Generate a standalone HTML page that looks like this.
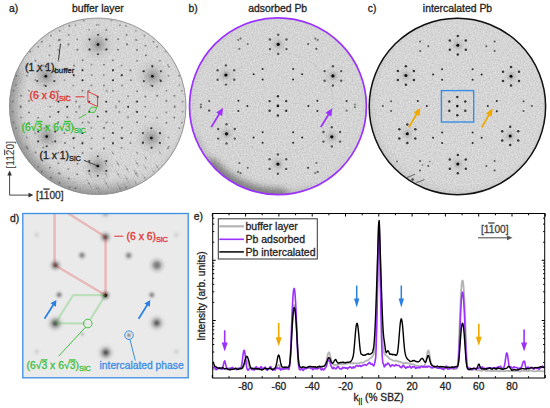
<!DOCTYPE html><html><head><meta charset="utf-8"><style>html,body{margin:0;padding:0;background:#fff;width:550px;height:408px;overflow:hidden}svg{display:block}text{font-family:"Liberation Sans", sans-serif}</style></head><body>
<svg width="550" height="408" viewBox="0 0 550 408">
<defs>
<filter id="bs" x="-100%" y="-100%" width="300%" height="300%"><feGaussianBlur stdDeviation="0.7"/></filter>
<filter id="b3" x="-100%" y="-100%" width="300%" height="300%"><feGaussianBlur stdDeviation="3"/></filter>
<filter id="b5" x="-20%" y="-20%" width="140%" height="140%"><feGaussianBlur stdDeviation="5"/></filter>
<radialGradient id="halo"><stop offset="0" stop-color="#000" stop-opacity="0.5"/><stop offset="0.2" stop-color="#000" stop-opacity="0.25"/><stop offset="0.55" stop-color="#000" stop-opacity="0.07"/><stop offset="1" stop-color="#000" stop-opacity="0"/></radialGradient>
<clipPath id="cp0"><circle cx="97.75" cy="106.25" r="88.6"/></clipPath>
<clipPath id="cp1"><circle cx="277.95" cy="106.25" r="88.6"/></clipPath>
<clipPath id="cp2"><circle cx="457.4" cy="106.25" r="88.6"/></clipPath>
<clipPath id="cpd"><rect x="23" y="213.5" width="165" height="164.3"/></clipPath>
<clipPath id="cpe"><rect x="212.5" y="213.5" width="332.5" height="164.5"/></clipPath>
<filter id="noise" x="0" y="0" width="100%" height="100%" filterUnits="objectBoundingBox"><feTurbulence type="fractalNoise" baseFrequency="0.65" numOctaves="1" seed="4" result="t"/><feColorMatrix in="t" type="matrix" values="0 0 0 0 0  0 0 0 0 0  0 0 0 0 0  0.22 0 0 0 -0.06"/></filter>
</defs>
<g clip-path="url(#cp0)">
<rect x="9.150000000000006" y="17.650000000000006" width="177.2" height="177.2" fill="#e0e0e0"/>
<path filter="url(#b5)" d="M14.5,75.9 A88.6,88.6 0 0,0 128.1,189.5" fill="none" stroke="#000" stroke-opacity="0.2" stroke-width="16" stroke-linecap="round"/><path filter="url(#b3)" fill-rule="evenodd" fill="#000" fill-opacity="0.1" d="M-5.849999999999994,2.6500000000000057 h207.2 v207.2 h-207.2 Z M11.150000000000006,104.25 a88.6,88.6 0 1,0 177.2,0 a88.6,88.6 0 1,0 -177.2,0 Z"/><path filter="url(#b5)" fill-rule="evenodd" fill="#000" fill-opacity="0.05" d="M-5.849999999999994,2.6500000000000057 h207.2 v207.2 h-207.2 Z M17.150000000000006,98.25 a88.6,88.6 0 1,0 177.2,0 a88.6,88.6 0 1,0 -177.2,0 Z"/><rect x="0" y="15" width="550" height="185" filter="url(#noise)"/>
<g filter="url(#bs)"><circle cx="97.7" cy="96.9" r="1.05" fill="#000" fill-opacity="0.70"/><circle cx="89.2" cy="101.8" r="1.05" fill="#000" fill-opacity="0.70"/><circle cx="89.2" cy="111.6" r="1.05" fill="#000" fill-opacity="0.70"/><circle cx="97.7" cy="116.5" r="1.05" fill="#000" fill-opacity="0.70"/><circle cx="106.2" cy="111.6" r="1.05" fill="#000" fill-opacity="0.70"/><circle cx="106.2" cy="101.8" r="1.05" fill="#000" fill-opacity="0.70"/><circle cx="98.0" cy="34.7" r="1.05" fill="#000" fill-opacity="0.68"/><circle cx="89.5" cy="39.6" r="1.05" fill="#000" fill-opacity="0.68"/><circle cx="89.5" cy="49.4" r="1.05" fill="#000" fill-opacity="0.68"/><circle cx="98.0" cy="54.3" r="1.05" fill="#000" fill-opacity="0.68"/><circle cx="106.5" cy="49.4" r="1.05" fill="#000" fill-opacity="0.68"/><circle cx="106.5" cy="39.6" r="1.05" fill="#000" fill-opacity="0.68"/><circle cx="152.4" cy="66.4" r="1.05" fill="#000" fill-opacity="0.68"/><circle cx="143.9" cy="71.3" r="1.05" fill="#000" fill-opacity="0.68"/><circle cx="143.9" cy="81.1" r="1.05" fill="#000" fill-opacity="0.68"/><circle cx="152.4" cy="86.0" r="1.05" fill="#000" fill-opacity="0.68"/><circle cx="160.9" cy="81.1" r="1.05" fill="#000" fill-opacity="0.68"/><circle cx="160.9" cy="71.3" r="1.05" fill="#000" fill-opacity="0.68"/><circle cx="151.4" cy="128.2" r="1.05" fill="#000" fill-opacity="0.68"/><circle cx="142.9" cy="133.1" r="1.05" fill="#000" fill-opacity="0.68"/><circle cx="142.9" cy="142.9" r="1.05" fill="#000" fill-opacity="0.68"/><circle cx="151.4" cy="147.8" r="1.05" fill="#000" fill-opacity="0.68"/><circle cx="159.9" cy="142.9" r="1.05" fill="#000" fill-opacity="0.68"/><circle cx="159.9" cy="133.1" r="1.05" fill="#000" fill-opacity="0.68"/><circle cx="45.8" cy="66.4" r="1.05" fill="#000" fill-opacity="0.68"/><circle cx="37.3" cy="71.3" r="1.05" fill="#000" fill-opacity="0.68"/><circle cx="37.3" cy="81.1" r="1.05" fill="#000" fill-opacity="0.68"/><circle cx="45.8" cy="86.0" r="1.05" fill="#000" fill-opacity="0.68"/><circle cx="54.3" cy="81.1" r="1.05" fill="#000" fill-opacity="0.68"/><circle cx="54.3" cy="71.3" r="1.05" fill="#000" fill-opacity="0.68"/><circle cx="46.7" cy="126.7" r="1.05" fill="#000" fill-opacity="0.68"/><circle cx="38.2" cy="131.6" r="1.05" fill="#000" fill-opacity="0.68"/><circle cx="38.2" cy="141.4" r="1.05" fill="#000" fill-opacity="0.68"/><circle cx="46.7" cy="146.3" r="1.05" fill="#000" fill-opacity="0.68"/><circle cx="55.2" cy="141.4" r="1.05" fill="#000" fill-opacity="0.68"/><circle cx="55.2" cy="131.6" r="1.05" fill="#000" fill-opacity="0.68"/><circle cx="97.8" cy="156.2" r="1.05" fill="#000" fill-opacity="0.68"/><circle cx="89.3" cy="161.1" r="1.05" fill="#000" fill-opacity="0.68"/><circle cx="89.3" cy="170.9" r="1.05" fill="#000" fill-opacity="0.68"/><circle cx="97.8" cy="175.8" r="1.05" fill="#000" fill-opacity="0.68"/><circle cx="106.3" cy="170.9" r="1.05" fill="#000" fill-opacity="0.68"/><circle cx="106.3" cy="161.1" r="1.05" fill="#000" fill-opacity="0.68"/><circle cx="137.2" cy="101.5" r="1.00" fill="#000" fill-opacity="0.70"/><circle cx="128.2" cy="106.7" r="1.00" fill="#000" fill-opacity="0.70"/><circle cx="137.2" cy="111.9" r="1.00" fill="#000" fill-opacity="0.70"/><circle cx="122.0" cy="75.1" r="1.00" fill="#000" fill-opacity="0.70"/><circle cx="113.0" cy="69.9" r="1.00" fill="#000" fill-opacity="0.70"/><circle cx="113.0" cy="80.3" r="1.00" fill="#000" fill-opacity="0.70"/><circle cx="82.5" cy="69.9" r="1.00" fill="#000" fill-opacity="0.70"/><circle cx="73.5" cy="75.1" r="1.00" fill="#000" fill-opacity="0.70"/><circle cx="82.5" cy="80.3" r="1.00" fill="#000" fill-opacity="0.70"/><circle cx="67.2" cy="106.7" r="1.00" fill="#000" fill-opacity="0.70"/><circle cx="58.2" cy="101.5" r="1.00" fill="#000" fill-opacity="0.70"/><circle cx="58.2" cy="111.9" r="1.00" fill="#000" fill-opacity="0.70"/><circle cx="82.4" cy="133.1" r="1.00" fill="#000" fill-opacity="0.70"/><circle cx="73.4" cy="138.3" r="1.00" fill="#000" fill-opacity="0.70"/><circle cx="82.4" cy="143.5" r="1.00" fill="#000" fill-opacity="0.70"/><circle cx="122.0" cy="138.3" r="1.00" fill="#000" fill-opacity="0.70"/><circle cx="113.0" cy="133.1" r="1.00" fill="#000" fill-opacity="0.70"/><circle cx="113.0" cy="143.5" r="1.00" fill="#000" fill-opacity="0.70"/><circle cx="76.2" cy="111.9" r="1.05" fill="#000" fill-opacity="0.30"/><circle cx="82.5" cy="122.7" r="1.05" fill="#000" fill-opacity="0.35"/><circle cx="82.5" cy="90.7" r="1.05" fill="#000" fill-opacity="0.41"/><circle cx="76.2" cy="101.5" r="1.05" fill="#000" fill-opacity="0.40"/><circle cx="104.0" cy="85.5" r="1.05" fill="#000" fill-opacity="0.40"/><circle cx="91.4" cy="85.5" r="1.05" fill="#000" fill-opacity="0.35"/><circle cx="119.2" cy="101.5" r="1.05" fill="#000" fill-opacity="0.41"/><circle cx="112.9" cy="90.7" r="1.05" fill="#000" fill-opacity="0.37"/><circle cx="112.9" cy="122.7" r="1.05" fill="#000" fill-opacity="0.28"/><circle cx="119.2" cy="111.9" r="1.05" fill="#000" fill-opacity="0.35"/><circle cx="91.4" cy="127.9" r="1.05" fill="#000" fill-opacity="0.28"/><circle cx="104.0" cy="127.9" r="1.05" fill="#000" fill-opacity="0.44"/><circle cx="67.3" cy="96.2" r="1.05" fill="#000" fill-opacity="0.44"/><circle cx="91.6" cy="138.3" r="1.05" fill="#000" fill-opacity="0.33"/><circle cx="91.6" cy="75.1" r="1.05" fill="#000" fill-opacity="0.33"/><circle cx="67.3" cy="117.2" r="1.05" fill="#000" fill-opacity="0.41"/><circle cx="122.0" cy="85.6" r="1.05" fill="#000" fill-opacity="0.31"/><circle cx="73.4" cy="85.6" r="1.05" fill="#000" fill-opacity="0.30"/><circle cx="103.8" cy="75.1" r="1.05" fill="#000" fill-opacity="0.30"/><circle cx="128.1" cy="96.2" r="1.05" fill="#000" fill-opacity="0.33"/><circle cx="128.1" cy="117.2" r="1.05" fill="#000" fill-opacity="0.38"/><circle cx="103.8" cy="138.3" r="1.05" fill="#000" fill-opacity="0.44"/><circle cx="73.4" cy="127.8" r="1.05" fill="#000" fill-opacity="0.31"/><circle cx="122.0" cy="127.8" r="1.05" fill="#000" fill-opacity="0.44"/><circle cx="136.4" cy="111.5" r="1.05" fill="#000" fill-opacity="0.33"/><circle cx="112.9" cy="70.8" r="1.05" fill="#000" fill-opacity="0.38"/><circle cx="112.9" cy="142.6" r="1.05" fill="#000" fill-opacity="0.37"/><circle cx="136.4" cy="101.9" r="1.05" fill="#000" fill-opacity="0.27"/><circle cx="74.2" cy="137.8" r="1.05" fill="#000" fill-opacity="0.34"/><circle cx="59.0" cy="101.9" r="1.05" fill="#000" fill-opacity="0.26"/><circle cx="82.5" cy="70.8" r="1.05" fill="#000" fill-opacity="0.24"/><circle cx="121.2" cy="137.8" r="1.05" fill="#000" fill-opacity="0.30"/><circle cx="121.2" cy="75.6" r="1.05" fill="#000" fill-opacity="0.36"/><circle cx="82.5" cy="142.6" r="1.05" fill="#000" fill-opacity="0.33"/><circle cx="59.0" cy="111.5" r="1.05" fill="#000" fill-opacity="0.27"/><circle cx="74.2" cy="75.6" r="1.05" fill="#000" fill-opacity="0.37"/><circle cx="130.9" cy="133.1" r="1.05" fill="#000" fill-opacity="0.43"/><circle cx="91.4" cy="64.8" r="1.05" fill="#000" fill-opacity="0.31"/><circle cx="91.4" cy="148.6" r="1.05" fill="#000" fill-opacity="0.35"/><circle cx="130.9" cy="80.3" r="1.05" fill="#000" fill-opacity="0.38"/><circle cx="58.3" cy="122.2" r="1.05" fill="#000" fill-opacity="0.43"/><circle cx="64.5" cy="80.3" r="1.05" fill="#000" fill-opacity="0.29"/><circle cx="104.0" cy="64.8" r="1.05" fill="#000" fill-opacity="0.37"/><circle cx="137.1" cy="122.2" r="1.05" fill="#000" fill-opacity="0.44"/><circle cx="137.1" cy="91.2" r="1.05" fill="#000" fill-opacity="0.38"/><circle cx="104.0" cy="148.6" r="1.05" fill="#000" fill-opacity="0.40"/><circle cx="64.5" cy="133.1" r="1.05" fill="#000" fill-opacity="0.41"/><circle cx="58.3" cy="91.2" r="1.05" fill="#000" fill-opacity="0.36"/><circle cx="145.2" cy="106.7" r="1.05" fill="#000" fill-opacity="0.29"/><circle cx="121.5" cy="147.8" r="1.05" fill="#000" fill-opacity="0.33"/><circle cx="73.9" cy="147.8" r="1.05" fill="#000" fill-opacity="0.32"/><circle cx="50.2" cy="106.7" r="1.05" fill="#000" fill-opacity="0.29"/><circle cx="74.0" cy="65.6" r="1.05" fill="#000" fill-opacity="0.38"/><circle cx="121.5" cy="65.6" r="1.05" fill="#000" fill-opacity="0.30"/><circle cx="50.0" cy="116.8" r="1.05" fill="#000" fill-opacity="0.36"/><line x1="111.8" y1="151.4" x2="113.8" y2="154.8" stroke="#000" stroke-opacity="0.18" stroke-width="1.0" stroke-linecap="round"/><circle cx="112.8" cy="153.1" r="0.95" fill="#000" fill-opacity="0.24"/><circle cx="65.0" cy="70.4" r="1.05" fill="#000" fill-opacity="0.42"/><circle cx="65.0" cy="143.0" r="1.05" fill="#000" fill-opacity="0.43"/><circle cx="112.8" cy="60.3" r="1.05" fill="#000" fill-opacity="0.39"/><circle cx="50.0" cy="96.6" r="1.05" fill="#000" fill-opacity="0.32"/><circle cx="145.4" cy="96.6" r="1.05" fill="#000" fill-opacity="0.42"/><circle cx="82.6" cy="60.3" r="1.05" fill="#000" fill-opacity="0.43"/><circle cx="130.4" cy="70.4" r="1.05" fill="#000" fill-opacity="0.40"/><circle cx="82.6" cy="153.1" r="1.05" fill="#000" fill-opacity="0.41"/><circle cx="130.4" cy="143.0" r="1.05" fill="#000" fill-opacity="0.36"/><circle cx="145.4" cy="116.8" r="1.05" fill="#000" fill-opacity="0.36"/><line x1="116.4" y1="161.1" x2="119.4" y2="166.3" stroke="#000" stroke-opacity="0.19" stroke-width="1.0" stroke-linecap="round"/><circle cx="117.9" cy="163.7" r="0.95" fill="#000" fill-opacity="0.25"/><circle cx="58.4" cy="60.7" r="1.05" fill="#000" fill-opacity="0.33"/><circle cx="58.4" cy="152.7" r="1.05" fill="#000" fill-opacity="0.44"/><circle cx="117.9" cy="49.7" r="1.05" fill="#000" fill-opacity="0.47"/><circle cx="38.2" cy="95.7" r="1.05" fill="#000" fill-opacity="0.33"/><circle cx="157.2" cy="95.7" r="1.05" fill="#000" fill-opacity="0.45"/><circle cx="77.5" cy="49.7" r="1.05" fill="#000" fill-opacity="0.44"/><circle cx="137.0" cy="60.7" r="1.05" fill="#000" fill-opacity="0.32"/><line x1="136.0" y1="151.1" x2="137.9" y2="154.4" stroke="#000" stroke-opacity="0.14" stroke-width="1.0" stroke-linecap="round"/><circle cx="137.0" cy="152.7" r="0.95" fill="#000" fill-opacity="0.19"/><circle cx="77.5" cy="163.7" r="1.05" fill="#000" fill-opacity="0.42"/><circle cx="157.2" cy="117.7" r="1.05" fill="#000" fill-opacity="0.34"/><circle cx="38.2" cy="117.7" r="1.05" fill="#000" fill-opacity="0.36"/><circle cx="89.7" cy="49.8" r="1.05" fill="#000" fill-opacity="0.31"/><circle cx="143.0" cy="142.1" r="1.05" fill="#000" fill-opacity="0.31"/><circle cx="143.0" cy="71.3" r="1.05" fill="#000" fill-opacity="0.33"/><line x1="88.2" y1="161.0" x2="91.2" y2="166.2" stroke="#000" stroke-opacity="0.13" stroke-width="1.0" stroke-linecap="round"/><circle cx="89.7" cy="163.6" r="0.95" fill="#000" fill-opacity="0.18"/><circle cx="44.4" cy="128.2" r="1.05" fill="#000" fill-opacity="0.27"/><circle cx="52.4" cy="71.3" r="1.05" fill="#000" fill-opacity="0.22"/><circle cx="151.0" cy="128.2" r="1.05" fill="#000" fill-opacity="0.23"/><circle cx="105.7" cy="49.8" r="1.05" fill="#000" fill-opacity="0.25"/><circle cx="151.0" cy="85.2" r="1.05" fill="#000" fill-opacity="0.29"/><line x1="104.2" y1="161.0" x2="107.2" y2="166.2" stroke="#000" stroke-opacity="0.14" stroke-width="1.0" stroke-linecap="round"/><circle cx="105.7" cy="163.6" r="0.95" fill="#000" fill-opacity="0.19"/><circle cx="52.4" cy="142.1" r="1.05" fill="#000" fill-opacity="0.25"/><circle cx="44.4" cy="85.2" r="1.05" fill="#000" fill-opacity="0.27"/><circle cx="127.0" cy="44.4" r="1.05" fill="#000" fill-opacity="0.44"/><circle cx="166.4" cy="112.5" r="1.05" fill="#000" fill-opacity="0.34"/><circle cx="166.4" cy="100.9" r="1.05" fill="#000" fill-opacity="0.40"/><line x1="125.3" y1="166.0" x2="128.8" y2="172.1" stroke="#000" stroke-opacity="0.17" stroke-width="1.0" stroke-linecap="round"/><circle cx="127.0" cy="169.0" r="0.95" fill="#000" fill-opacity="0.23"/><circle cx="58.4" cy="163.3" r="1.05" fill="#000" fill-opacity="0.39"/><circle cx="29.0" cy="100.9" r="1.05" fill="#000" fill-opacity="0.36"/><line x1="135.5" y1="160.7" x2="138.5" y2="165.8" stroke="#000" stroke-opacity="0.17" stroke-width="1.0" stroke-linecap="round"/><circle cx="137.0" cy="163.3" r="0.95" fill="#000" fill-opacity="0.22"/><circle cx="68.4" cy="44.4" r="1.05" fill="#000" fill-opacity="0.40"/><circle cx="68.4" cy="169.0" r="1.05" fill="#000" fill-opacity="0.30"/><circle cx="137.0" cy="50.1" r="1.05" fill="#000" fill-opacity="0.41"/><circle cx="29.0" cy="112.5" r="1.05" fill="#000" fill-opacity="0.43"/><circle cx="58.4" cy="50.1" r="1.05" fill="#000" fill-opacity="0.28"/><circle cx="29.0" cy="122.7" r="1.05" fill="#000" fill-opacity="0.31"/><circle cx="49.5" cy="158.2" r="1.05" fill="#000" fill-opacity="0.31"/><circle cx="49.5" cy="55.2" r="1.05" fill="#000" fill-opacity="0.29"/><circle cx="29.0" cy="90.7" r="1.05" fill="#000" fill-opacity="0.30"/><circle cx="118.2" cy="39.2" r="1.05" fill="#000" fill-opacity="0.39"/><circle cx="77.2" cy="39.2" r="1.05" fill="#000" fill-opacity="0.29"/><circle cx="166.4" cy="90.7" r="1.05" fill="#000" fill-opacity="0.28"/><circle cx="145.9" cy="55.2" r="1.05" fill="#000" fill-opacity="0.44"/><line x1="144.6" y1="156.1" x2="147.1" y2="160.3" stroke="#000" stroke-opacity="0.15" stroke-width="1.0" stroke-linecap="round"/><circle cx="145.9" cy="158.2" r="0.95" fill="#000" fill-opacity="0.21"/><circle cx="166.4" cy="122.7" r="1.05" fill="#000" fill-opacity="0.37"/><circle cx="77.2" cy="174.2" r="1.05" fill="#000" fill-opacity="0.36"/><line x1="116.2" y1="170.7" x2="120.2" y2="177.7" stroke="#000" stroke-opacity="0.15" stroke-width="1.0" stroke-linecap="round"/><circle cx="118.2" cy="174.2" r="0.95" fill="#000" fill-opacity="0.20"/><circle cx="89.5" cy="39.2" r="1.05" fill="#000" fill-opacity="0.31"/><circle cx="152.1" cy="147.5" r="1.05" fill="#000" fill-opacity="0.27"/><circle cx="152.1" cy="65.9" r="1.05" fill="#000" fill-opacity="0.33"/><line x1="87.5" y1="170.7" x2="91.6" y2="177.7" stroke="#000" stroke-opacity="0.13" stroke-width="1.0" stroke-linecap="round"/><circle cx="89.5" cy="174.2" r="0.95" fill="#000" fill-opacity="0.17"/><circle cx="35.2" cy="133.4" r="1.05" fill="#000" fill-opacity="0.26"/><circle cx="43.3" cy="65.9" r="1.05" fill="#000" fill-opacity="0.27"/><circle cx="160.2" cy="133.4" r="1.05" fill="#000" fill-opacity="0.31"/><circle cx="105.9" cy="39.2" r="1.05" fill="#000" fill-opacity="0.39"/><line x1="103.8" y1="170.7" x2="107.9" y2="177.7" stroke="#000" stroke-opacity="0.15" stroke-width="1.0" stroke-linecap="round"/><circle cx="105.9" cy="174.2" r="0.95" fill="#000" fill-opacity="0.20"/><circle cx="160.2" cy="80.0" r="1.05" fill="#000" fill-opacity="0.40"/><circle cx="43.3" cy="147.5" r="1.05" fill="#000" fill-opacity="0.30"/><circle cx="35.2" cy="80.0" r="1.05" fill="#000" fill-opacity="0.28"/><circle cx="174.7" cy="106.2" r="1.05" fill="#000" fill-opacity="0.35"/><circle cx="174.7" cy="107.2" r="1.05" fill="#000" fill-opacity="0.27"/><line x1="133.7" y1="170.2" x2="137.7" y2="177.1" stroke="#000" stroke-opacity="0.18" stroke-width="1.0" stroke-linecap="round"/><circle cx="135.7" cy="173.7" r="0.95" fill="#000" fill-opacity="0.24"/><line x1="134.7" y1="169.7" x2="138.6" y2="176.5" stroke="#000" stroke-opacity="0.14" stroke-width="1.0" stroke-linecap="round"/><circle cx="136.7" cy="173.1" r="0.95" fill="#000" fill-opacity="0.18"/><circle cx="58.7" cy="173.1" r="1.05" fill="#000" fill-opacity="0.28"/><circle cx="59.7" cy="173.7" r="1.05" fill="#000" fill-opacity="0.28"/><circle cx="20.7" cy="106.2" r="1.05" fill="#000" fill-opacity="0.29"/><circle cx="20.7" cy="107.2" r="1.05" fill="#000" fill-opacity="0.39"/><circle cx="59.7" cy="39.7" r="1.05" fill="#000" fill-opacity="0.40"/><circle cx="58.7" cy="40.3" r="1.05" fill="#000" fill-opacity="0.33"/><circle cx="136.7" cy="40.3" r="1.05" fill="#000" fill-opacity="0.28"/><circle cx="135.7" cy="39.7" r="1.05" fill="#000" fill-opacity="0.24"/><circle cx="49.9" cy="45.8" r="1.05" fill="#000" fill-opacity="0.25"/><line x1="124.3" y1="174.6" x2="128.8" y2="182.4" stroke="#000" stroke-opacity="0.13" stroke-width="1.0" stroke-linecap="round"/><circle cx="126.6" cy="178.5" r="0.95" fill="#000" fill-opacity="0.17"/><circle cx="126.6" cy="34.9" r="1.05" fill="#000" fill-opacity="0.34"/><circle cx="49.9" cy="167.6" r="1.05" fill="#000" fill-opacity="0.34"/><circle cx="174.3" cy="95.8" r="1.05" fill="#000" fill-opacity="0.38"/><circle cx="21.1" cy="95.8" r="1.05" fill="#000" fill-opacity="0.37"/><circle cx="68.8" cy="34.9" r="1.05" fill="#000" fill-opacity="0.30"/><circle cx="145.5" cy="45.8" r="1.05" fill="#000" fill-opacity="0.35"/><line x1="143.8" y1="164.7" x2="147.2" y2="170.5" stroke="#000" stroke-opacity="0.14" stroke-width="1.0" stroke-linecap="round"/><circle cx="145.5" cy="167.6" r="0.95" fill="#000" fill-opacity="0.19"/><circle cx="68.8" cy="178.5" r="1.05" fill="#000" fill-opacity="0.36"/><circle cx="21.1" cy="117.6" r="1.05" fill="#000" fill-opacity="0.27"/><circle cx="174.3" cy="117.6" r="1.05" fill="#000" fill-opacity="0.40"/><circle cx="89.1" cy="29.9" r="1.05" fill="#000" fill-opacity="0.24"/><line x1="159.0" y1="150.9" x2="160.9" y2="154.2" stroke="#000" stroke-opacity="0.15" stroke-width="1.0" stroke-linecap="round"/><circle cx="159.9" cy="152.6" r="0.95" fill="#000" fill-opacity="0.20"/><circle cx="159.9" cy="60.8" r="1.05" fill="#000" fill-opacity="0.30"/><line x1="86.6" y1="179.2" x2="91.6" y2="187.8" stroke="#000" stroke-opacity="0.17" stroke-width="1.0" stroke-linecap="round"/><circle cx="89.1" cy="183.5" r="0.95" fill="#000" fill-opacity="0.22"/><circle cx="26.9" cy="137.6" r="1.05" fill="#000" fill-opacity="0.26"/><circle cx="35.5" cy="60.8" r="1.05" fill="#000" fill-opacity="0.38"/><circle cx="168.5" cy="137.6" r="1.05" fill="#000" fill-opacity="0.24"/><circle cx="106.3" cy="29.9" r="1.05" fill="#000" fill-opacity="0.36"/><line x1="103.8" y1="179.2" x2="108.8" y2="187.8" stroke="#000" stroke-opacity="0.16" stroke-width="1.0" stroke-linecap="round"/><circle cx="106.3" cy="183.5" r="0.95" fill="#000" fill-opacity="0.21"/><circle cx="168.5" cy="75.8" r="1.05" fill="#000" fill-opacity="0.32"/><circle cx="35.5" cy="152.6" r="1.05" fill="#000" fill-opacity="0.27"/><circle cx="26.9" cy="75.8" r="1.05" fill="#000" fill-opacity="0.30"/><circle cx="182.6" cy="101.7" r="1.05" fill="#000" fill-opacity="0.28"/><circle cx="182.6" cy="111.7" r="1.05" fill="#000" fill-opacity="0.25"/><line x1="133.3" y1="178.5" x2="138.2" y2="186.9" stroke="#000" stroke-opacity="0.11" stroke-width="1.0" stroke-linecap="round"/><circle cx="135.8" cy="182.7" r="0.95" fill="#000" fill-opacity="0.14"/><circle cx="50.9" cy="177.7" r="1.05" fill="#000" fill-opacity="0.34"/><line x1="142.3" y1="173.9" x2="146.7" y2="181.5" stroke="#000" stroke-opacity="0.13" stroke-width="1.0" stroke-linecap="round"/><circle cx="144.5" cy="177.7" r="0.95" fill="#000" fill-opacity="0.18"/><circle cx="12.8" cy="101.7" r="1.05" fill="#000" fill-opacity="0.26"/><circle cx="59.6" cy="182.7" r="1.05" fill="#000" fill-opacity="0.31"/><circle cx="59.6" cy="30.7" r="1.05" fill="#000" fill-opacity="0.31"/><circle cx="12.8" cy="111.7" r="1.05" fill="#000" fill-opacity="0.24"/><circle cx="144.5" cy="35.7" r="1.05" fill="#000" fill-opacity="0.30"/><circle cx="50.9" cy="35.7" r="1.05" fill="#000" fill-opacity="0.30"/><circle cx="135.8" cy="30.7" r="1.05" fill="#000" fill-opacity="0.23"/><line x1="123.3" y1="182.8" x2="128.7" y2="192.1" stroke="#000" stroke-opacity="0.12" stroke-width="1.0" stroke-linecap="round"/><circle cx="126.0" cy="187.5" r="0.95" fill="#000" fill-opacity="0.16"/><circle cx="41.9" cy="41.8" r="1.05" fill="#000" fill-opacity="0.34"/><circle cx="41.9" cy="171.6" r="1.05" fill="#000" fill-opacity="0.30"/><circle cx="126.0" cy="25.9" r="1.05" fill="#000" fill-opacity="0.25"/><circle cx="13.6" cy="90.8" r="1.05" fill="#000" fill-opacity="0.27"/><circle cx="181.8" cy="90.8" r="1.05" fill="#000" fill-opacity="0.28"/><circle cx="69.4" cy="25.9" r="1.05" fill="#000" fill-opacity="0.32"/><circle cx="153.5" cy="41.8" r="1.05" fill="#000" fill-opacity="0.34"/><line x1="151.6" y1="168.3" x2="155.4" y2="174.9" stroke="#000" stroke-opacity="0.10" stroke-width="1.0" stroke-linecap="round"/><circle cx="153.5" cy="171.6" r="0.95" fill="#000" fill-opacity="0.14"/><circle cx="69.4" cy="187.5" r="1.05" fill="#000" fill-opacity="0.22"/><circle cx="181.8" cy="122.6" r="1.05" fill="#000" fill-opacity="0.28"/><circle cx="13.6" cy="122.6" r="1.05" fill="#000" fill-opacity="0.22"/><circle cx="38.2" cy="166.7" r="1.05" fill="#000" fill-opacity="0.24"/><circle cx="16.0" cy="128.3" r="1.05" fill="#000" fill-opacity="0.23"/><circle cx="16.0" cy="85.1" r="1.05" fill="#000" fill-opacity="0.23"/><circle cx="38.2" cy="46.7" r="1.05" fill="#000" fill-opacity="0.31"/><circle cx="75.5" cy="25.2" r="1.05" fill="#000" fill-opacity="0.23"/><circle cx="119.9" cy="25.2" r="1.05" fill="#000" fill-opacity="0.30"/><circle cx="157.2" cy="46.7" r="1.05" fill="#000" fill-opacity="0.36"/><circle cx="179.4" cy="85.1" r="1.05" fill="#000" fill-opacity="0.24"/><circle cx="179.4" cy="128.3" r="1.05" fill="#000" fill-opacity="0.33"/><line x1="155.6" y1="163.8" x2="158.9" y2="169.5" stroke="#000" stroke-opacity="0.14" stroke-width="1.0" stroke-linecap="round"/><circle cx="157.2" cy="166.7" r="0.95" fill="#000" fill-opacity="0.18"/><line x1="117.1" y1="183.5" x2="122.6" y2="193.0" stroke="#000" stroke-opacity="0.11" stroke-width="1.0" stroke-linecap="round"/><circle cx="119.9" cy="188.2" r="0.95" fill="#000" fill-opacity="0.15"/><circle cx="75.5" cy="188.2" r="1.05" fill="#000" fill-opacity="0.36"/><circle cx="83.8" cy="20.6" r="1.05" fill="#000" fill-opacity="0.27"/><circle cx="165.3" cy="51.6" r="1.05" fill="#000" fill-opacity="0.23"/><circle cx="30.1" cy="51.6" r="1.05" fill="#000" fill-opacity="0.34"/><circle cx="111.6" cy="20.6" r="1.05" fill="#000" fill-opacity="0.23"/><circle cx="179.2" cy="75.7" r="1.05" fill="#000" fill-opacity="0.33"/><circle cx="16.2" cy="75.7" r="1.05" fill="#000" fill-opacity="0.32"/><circle cx="167.9" cy="148.4" r="1.05" fill="#000" fill-opacity="0.33"/><circle cx="168.9" cy="146.7" r="1.05" fill="#000" fill-opacity="0.27"/><line x1="94.0" y1="183.7" x2="99.4" y2="193.1" stroke="#000" stroke-opacity="0.10" stroke-width="1.0" stroke-linecap="round"/><circle cx="96.7" cy="188.4" r="0.95" fill="#000" fill-opacity="0.13"/><line x1="96.0" y1="183.7" x2="101.4" y2="193.1" stroke="#000" stroke-opacity="0.10" stroke-width="1.0" stroke-linecap="round"/><circle cx="98.7" cy="188.4" r="0.95" fill="#000" fill-opacity="0.13"/><circle cx="26.5" cy="146.7" r="1.05" fill="#000" fill-opacity="0.29"/><circle cx="27.5" cy="148.4" r="1.05" fill="#000" fill-opacity="0.30"/><circle cx="27.5" cy="65.0" r="1.05" fill="#000" fill-opacity="0.24"/><circle cx="26.5" cy="66.7" r="1.05" fill="#000" fill-opacity="0.31"/><circle cx="98.7" cy="25.0" r="1.05" fill="#000" fill-opacity="0.23"/><circle cx="96.7" cy="25.0" r="1.05" fill="#000" fill-opacity="0.29"/><circle cx="168.9" cy="66.7" r="1.05" fill="#000" fill-opacity="0.29"/><circle cx="167.9" cy="65.0" r="1.05" fill="#000" fill-opacity="0.25"/><circle cx="115.9" cy="106.0" r="1.05" fill="#000" fill-opacity="0.17"/><circle cx="115.9" cy="107.4" r="1.05" fill="#000" fill-opacity="0.26"/><circle cx="106.2" cy="122.8" r="1.05" fill="#000" fill-opacity="0.26"/><circle cx="88.0" cy="122.1" r="1.05" fill="#000" fill-opacity="0.23"/><circle cx="107.4" cy="122.1" r="1.05" fill="#000" fill-opacity="0.17"/><circle cx="79.5" cy="106.0" r="1.05" fill="#000" fill-opacity="0.22"/><circle cx="89.2" cy="122.8" r="1.05" fill="#000" fill-opacity="0.27"/><circle cx="89.2" cy="90.6" r="1.05" fill="#000" fill-opacity="0.25"/><circle cx="79.5" cy="107.4" r="1.05" fill="#000" fill-opacity="0.24"/><circle cx="107.4" cy="91.3" r="1.05" fill="#000" fill-opacity="0.17"/><circle cx="88.0" cy="91.3" r="1.05" fill="#000" fill-opacity="0.23"/><circle cx="106.2" cy="90.6" r="1.05" fill="#000" fill-opacity="0.19"/><circle cx="128.1" cy="106.7" r="1.05" fill="#000" fill-opacity="0.31"/><circle cx="112.9" cy="133.0" r="1.05" fill="#000" fill-opacity="0.19"/><circle cx="82.5" cy="133.0" r="1.05" fill="#000" fill-opacity="0.22"/><circle cx="67.3" cy="106.7" r="1.05" fill="#000" fill-opacity="0.30"/><circle cx="82.5" cy="80.4" r="1.05" fill="#000" fill-opacity="0.20"/><circle cx="112.9" cy="80.4" r="1.05" fill="#000" fill-opacity="0.23"/></g>
<circle cx="98.0" cy="44.5" r="17" fill="url(#halo)" opacity="0.85"/>
<circle cx="98.0" cy="44.5" r="1.3" fill="#000" fill-opacity="0.95" filter="url(#bs)"/>
<circle cx="152.4" cy="76.2" r="17" fill="url(#halo)" opacity="0.85"/>
<circle cx="152.4" cy="76.2" r="1.3" fill="#000" fill-opacity="0.95" filter="url(#bs)"/>
<circle cx="151.4" cy="138.0" r="17" fill="url(#halo)" opacity="0.85"/>
<circle cx="151.4" cy="138.0" r="1.3" fill="#000" fill-opacity="0.95" filter="url(#bs)"/>
<circle cx="45.8" cy="76.2" r="17" fill="url(#halo)" opacity="0.85"/>
<circle cx="45.8" cy="76.2" r="1.3" fill="#000" fill-opacity="0.95" filter="url(#bs)"/>
<circle cx="46.7" cy="136.5" r="17" fill="url(#halo)" opacity="0.85"/>
<circle cx="46.7" cy="136.5" r="1.3" fill="#000" fill-opacity="0.95" filter="url(#bs)"/>
<circle cx="97.8" cy="166.0" r="17" fill="url(#halo)" opacity="0.85"/>
<circle cx="97.8" cy="166.0" r="1.3" fill="#000" fill-opacity="0.95" filter="url(#bs)"/>

</g>
<circle cx="97.75" cy="106.25" r="88.19999999999999" fill="none" stroke="#8a8a8a" stroke-width="0.8"/>
<text x="25" y="70.8" font-size="10.4" fill="#222" stroke="#222" stroke-width="0.3" text-anchor="start" >(1 x 1)<tspan font-size="7.8" dy="2">buffer</tspan></text>
<line x1="58.5" y1="59.8" x2="60.5" y2="43.6" stroke="#222" stroke-width="0.9"/>
<text x="29.5" y="98.6" font-size="10.4" fill="#e03030" stroke="#e03030" stroke-width="0.3" text-anchor="start" >(6 x 6)<tspan font-size="7.5" dy="2">SiC</tspan></text>
<line x1="75.6" y1="96.8" x2="84.5" y2="96.8" stroke="#e03030" stroke-width="1"/>
<polygon points="87.9,91.4 97.6,96.2 97.6,106.5 87.9,102.2" fill="none" stroke="#e03030" stroke-width="0.9"/>
<polygon points="91.4,107.3 97,107.3 94.4,112.3 88.4,112.3" fill="none" stroke="#30c030" stroke-width="0.9"/>
<line x1="78.8" y1="118.3" x2="86.2" y2="114.2" stroke="#30c030" stroke-width="0.9"/>
<text x="21.5" y="131" font-size="10.4" fill="#30c030" stroke="#30c030" stroke-width="0.3" text-anchor="start" >(6√<tspan text-decoration="overline">3</tspan> x 6√<tspan text-decoration="overline">3</tspan>)<tspan font-size="7.5" dy="2">SiC</tspan></text>
<text x="39.5" y="158.6" font-size="10.4" fill="#222" stroke="#222" stroke-width="0.3" text-anchor="start" >(1 x 1)<tspan font-size="7.5" dy="2">SiC</tspan></text>
<line x1="84" y1="160.3" x2="97.1" y2="165.7" stroke="#222" stroke-width="0.8"/>
<polyline points="9.6,172 9.6,195.1 32,195.1" fill="none" stroke="#333" stroke-width="0.9"/>
<polygon points="9.6,170.6 7.3,175.5 11.9,175.5" fill="#333"/>
<polygon points="33.4,195.1 28.5,192.8 28.5,197.4" fill="#333"/>
<text x="36" y="198.6" font-size="10.2" fill="#333" stroke="#333" stroke-width="0.3" text-anchor="start" >[1<tspan style="text-decoration:overline">1</tspan>00]</text>
<text x="0" y="0" font-size="10.2" fill="#333" transform="translate(14.2 168.6) rotate(-90)">[11<tspan style="text-decoration:overline">2</tspan>0]</text>
<g clip-path="url(#cp1)">
<rect x="189.35" y="17.650000000000006" width="177.2" height="177.2" fill="#dfdfdf"/>
<path filter="url(#b3)" d="M212.1,165.5 A88.6,88.6 0 0,0 281.0,194.8" fill="none" stroke="#000" stroke-opacity="0.32" stroke-width="14" stroke-linecap="round"/><path filter="url(#b3)" d="M194.7,136.6 A88.6,88.6 0 0,0 308.3,189.5" fill="none" stroke="#000" stroke-opacity="0.12" stroke-width="6" stroke-linecap="round"/><path filter="url(#b3)" fill-rule="evenodd" fill="#000" fill-opacity="0.05" d="M174.35,2.6500000000000057 h207.2 v207.2 h-207.2 Z M191.35,104.25 a88.6,88.6 0 1,0 177.2,0 a88.6,88.6 0 1,0 -177.2,0 Z"/><rect x="0" y="15" width="550" height="185" filter="url(#noise)"/>
<g filter="url(#bs)"><circle cx="277.9" cy="96.3" r="1.20" fill="#000" fill-opacity="0.75"/><circle cx="269.6" cy="101.1" r="1.20" fill="#000" fill-opacity="0.75"/><circle cx="269.6" cy="110.7" r="1.20" fill="#000" fill-opacity="0.75"/><circle cx="277.9" cy="115.5" r="1.20" fill="#000" fill-opacity="0.75"/><circle cx="286.2" cy="110.7" r="1.20" fill="#000" fill-opacity="0.75"/><circle cx="286.2" cy="101.1" r="1.20" fill="#000" fill-opacity="0.75"/><circle cx="277.9" cy="105.9" r="1.30" fill="#000" fill-opacity="0.90"/><circle cx="278.2" cy="34.7" r="1.20" fill="#000" fill-opacity="0.60"/><circle cx="269.9" cy="39.5" r="1.20" fill="#000" fill-opacity="0.60"/><circle cx="269.9" cy="49.1" r="1.20" fill="#000" fill-opacity="0.60"/><circle cx="278.2" cy="53.9" r="1.20" fill="#000" fill-opacity="0.60"/><circle cx="286.5" cy="49.1" r="1.20" fill="#000" fill-opacity="0.60"/><circle cx="286.5" cy="39.5" r="1.20" fill="#000" fill-opacity="0.60"/><circle cx="332.9" cy="66.3" r="1.20" fill="#000" fill-opacity="0.60"/><circle cx="324.6" cy="71.1" r="1.20" fill="#000" fill-opacity="0.60"/><circle cx="324.6" cy="80.7" r="1.20" fill="#000" fill-opacity="0.60"/><circle cx="332.9" cy="85.5" r="1.20" fill="#000" fill-opacity="0.60"/><circle cx="341.2" cy="80.7" r="1.20" fill="#000" fill-opacity="0.60"/><circle cx="341.2" cy="71.1" r="1.20" fill="#000" fill-opacity="0.60"/><circle cx="331.8" cy="127.2" r="1.20" fill="#000" fill-opacity="0.60"/><circle cx="323.5" cy="132.0" r="1.20" fill="#000" fill-opacity="0.60"/><circle cx="323.5" cy="141.6" r="1.20" fill="#000" fill-opacity="0.60"/><circle cx="331.8" cy="146.4" r="1.20" fill="#000" fill-opacity="0.60"/><circle cx="340.1" cy="141.6" r="1.20" fill="#000" fill-opacity="0.60"/><circle cx="340.1" cy="132.0" r="1.20" fill="#000" fill-opacity="0.60"/><circle cx="225.9" cy="65.4" r="1.20" fill="#000" fill-opacity="0.60"/><circle cx="217.6" cy="70.2" r="1.20" fill="#000" fill-opacity="0.60"/><circle cx="217.6" cy="79.8" r="1.20" fill="#000" fill-opacity="0.60"/><circle cx="225.9" cy="84.6" r="1.20" fill="#000" fill-opacity="0.60"/><circle cx="234.2" cy="79.8" r="1.20" fill="#000" fill-opacity="0.60"/><circle cx="234.2" cy="70.2" r="1.20" fill="#000" fill-opacity="0.60"/><circle cx="226.5" cy="124.2" r="1.20" fill="#000" fill-opacity="0.60"/><circle cx="218.2" cy="129.0" r="1.20" fill="#000" fill-opacity="0.60"/><circle cx="218.2" cy="138.6" r="1.20" fill="#000" fill-opacity="0.60"/><circle cx="226.5" cy="143.4" r="1.20" fill="#000" fill-opacity="0.60"/><circle cx="234.8" cy="138.6" r="1.20" fill="#000" fill-opacity="0.60"/><circle cx="234.8" cy="129.0" r="1.20" fill="#000" fill-opacity="0.60"/><circle cx="277.9" cy="154.5" r="1.20" fill="#000" fill-opacity="0.60"/><circle cx="269.6" cy="159.3" r="1.20" fill="#000" fill-opacity="0.60"/><circle cx="269.6" cy="168.9" r="1.20" fill="#000" fill-opacity="0.60"/><circle cx="277.9" cy="173.7" r="1.20" fill="#000" fill-opacity="0.60"/><circle cx="286.2" cy="168.9" r="1.20" fill="#000" fill-opacity="0.60"/><circle cx="286.2" cy="159.3" r="1.20" fill="#000" fill-opacity="0.60"/><circle cx="317.4" cy="100.7" r="1.00" fill="#000" fill-opacity="0.80"/><circle cx="308.4" cy="105.9" r="1.00" fill="#000" fill-opacity="0.80"/><circle cx="317.4" cy="111.1" r="1.00" fill="#000" fill-opacity="0.80"/><circle cx="302.1" cy="74.3" r="1.00" fill="#000" fill-opacity="0.80"/><circle cx="293.1" cy="69.1" r="1.00" fill="#000" fill-opacity="0.80"/><circle cx="293.1" cy="79.5" r="1.00" fill="#000" fill-opacity="0.80"/><circle cx="262.6" cy="69.1" r="1.00" fill="#000" fill-opacity="0.80"/><circle cx="253.6" cy="74.3" r="1.00" fill="#000" fill-opacity="0.80"/><circle cx="262.6" cy="79.5" r="1.00" fill="#000" fill-opacity="0.80"/><circle cx="247.4" cy="105.9" r="1.00" fill="#000" fill-opacity="0.80"/><circle cx="238.4" cy="100.7" r="1.00" fill="#000" fill-opacity="0.80"/><circle cx="238.4" cy="111.1" r="1.00" fill="#000" fill-opacity="0.80"/><circle cx="262.6" cy="132.3" r="1.00" fill="#000" fill-opacity="0.80"/><circle cx="253.6" cy="137.5" r="1.00" fill="#000" fill-opacity="0.80"/><circle cx="262.6" cy="142.7" r="1.00" fill="#000" fill-opacity="0.80"/><circle cx="302.1" cy="137.5" r="1.00" fill="#000" fill-opacity="0.80"/><circle cx="293.1" cy="132.3" r="1.00" fill="#000" fill-opacity="0.80"/><circle cx="293.1" cy="142.7" r="1.00" fill="#000" fill-opacity="0.80"/><circle cx="308.1" cy="44.0" r="1.10" fill="#000" fill-opacity="0.57"/><circle cx="346.6" cy="110.7" r="1.10" fill="#000" fill-opacity="0.47"/><circle cx="346.6" cy="101.1" r="1.10" fill="#000" fill-opacity="0.68"/><circle cx="308.1" cy="167.8" r="1.10" fill="#000" fill-opacity="0.67"/><circle cx="239.4" cy="163.0" r="1.10" fill="#000" fill-opacity="0.54"/><circle cx="209.2" cy="101.1" r="1.10" fill="#000" fill-opacity="0.59"/><circle cx="316.4" cy="163.0" r="1.10" fill="#000" fill-opacity="0.47"/><circle cx="247.7" cy="44.0" r="1.10" fill="#000" fill-opacity="0.47"/><circle cx="247.7" cy="167.8" r="1.10" fill="#000" fill-opacity="0.49"/><circle cx="316.4" cy="48.8" r="1.10" fill="#000" fill-opacity="0.60"/><circle cx="239.4" cy="48.8" r="1.10" fill="#000" fill-opacity="0.47"/><circle cx="209.2" cy="110.7" r="1.10" fill="#000" fill-opacity="0.68"/><circle cx="354.9" cy="104.6" r="1.10" fill="#000" fill-opacity="0.39"/><circle cx="354.9" cy="107.2" r="1.10" fill="#000" fill-opacity="0.42"/><circle cx="315.2" cy="173.2" r="1.10" fill="#000" fill-opacity="0.40"/><circle cx="317.6" cy="171.9" r="1.10" fill="#000" fill-opacity="0.57"/><circle cx="238.2" cy="171.9" r="1.10" fill="#000" fill-opacity="0.47"/><circle cx="240.6" cy="173.2" r="1.10" fill="#000" fill-opacity="0.49"/><circle cx="200.9" cy="104.6" r="1.10" fill="#000" fill-opacity="0.46"/><circle cx="200.9" cy="107.2" r="1.10" fill="#000" fill-opacity="0.53"/><circle cx="240.6" cy="38.6" r="1.10" fill="#000" fill-opacity="0.48"/><circle cx="238.2" cy="39.9" r="1.10" fill="#000" fill-opacity="0.43"/><circle cx="317.6" cy="39.9" r="1.10" fill="#000" fill-opacity="0.48"/><circle cx="315.2" cy="38.6" r="1.10" fill="#000" fill-opacity="0.45"/></g>
<circle cx="278.2" cy="44.3" r="9" fill="url(#halo)" opacity="0.7"/>
<circle cx="278.2" cy="44.3" r="1.6" fill="#000" fill-opacity="0.95" filter="url(#bs)"/>
<circle cx="332.9" cy="75.9" r="9" fill="url(#halo)" opacity="0.7"/>
<circle cx="332.9" cy="75.9" r="1.6" fill="#000" fill-opacity="0.95" filter="url(#bs)"/>
<circle cx="331.8" cy="136.8" r="9" fill="url(#halo)" opacity="0.7"/>
<circle cx="331.8" cy="136.8" r="1.6" fill="#000" fill-opacity="0.95" filter="url(#bs)"/>
<circle cx="225.9" cy="75.0" r="9" fill="url(#halo)" opacity="0.7"/>
<circle cx="225.9" cy="75.0" r="1.6" fill="#000" fill-opacity="0.95" filter="url(#bs)"/>
<circle cx="226.5" cy="133.8" r="9" fill="url(#halo)" opacity="0.7"/>
<circle cx="226.5" cy="133.8" r="1.6" fill="#000" fill-opacity="0.95" filter="url(#bs)"/>
<circle cx="277.9" cy="164.1" r="9" fill="url(#halo)" opacity="0.7"/>
<circle cx="277.9" cy="164.1" r="1.6" fill="#000" fill-opacity="0.95" filter="url(#bs)"/>
<ellipse cx="279.3" cy="103.2" rx="53.8" ry="50.5" fill="none" stroke="#000" stroke-opacity="0.035" stroke-width="1.1"/>
</g>
<circle cx="277.95" cy="106.25" r="88.45" fill="none" stroke="#9b30ff" stroke-width="1.7"/>
<line x1="211.3" y1="127.1" x2="219.4" y2="113.8" stroke="#9b30ff" stroke-width="1.8"/>
<polygon points="223.1,107.8 222.1,116.0 216.3,112.4" fill="#9b30ff"/>
<line x1="320.8" y1="127.1" x2="328.7" y2="114.2" stroke="#9b30ff" stroke-width="1.8"/>
<polygon points="332.3,108.2 331.3,116.4 325.5,112.8" fill="#9b30ff"/>
<g clip-path="url(#cp2)">
<rect x="368.79999999999995" y="17.650000000000006" width="177.2" height="177.2" fill="#e0e0e0"/>
<path filter="url(#b3)" fill-rule="evenodd" fill="#000" fill-opacity="0.07" d="M353.79999999999995,2.6500000000000057 h207.2 v207.2 h-207.2 Z M371.79999999999995,103.25 a88.6,88.6 0 1,0 177.2,0 a88.6,88.6 0 1,0 -177.2,0 Z"/><rect x="0" y="15" width="550" height="185" filter="url(#noise)"/>
<g filter="url(#bs)"><circle cx="457.3" cy="96.9" r="1.25" fill="#000" fill-opacity="0.75"/><circle cx="449.3" cy="101.5" r="1.25" fill="#000" fill-opacity="0.75"/><circle cx="449.3" cy="110.7" r="1.25" fill="#000" fill-opacity="0.75"/><circle cx="457.3" cy="115.3" r="1.25" fill="#000" fill-opacity="0.75"/><circle cx="465.3" cy="110.7" r="1.25" fill="#000" fill-opacity="0.75"/><circle cx="465.3" cy="101.5" r="1.25" fill="#000" fill-opacity="0.75"/><circle cx="457.3" cy="106.1" r="1.30" fill="#000" fill-opacity="0.90"/><circle cx="457.8" cy="36.0" r="1.25" fill="#000" fill-opacity="0.75"/><circle cx="449.8" cy="40.6" r="1.25" fill="#000" fill-opacity="0.75"/><circle cx="449.8" cy="49.8" r="1.25" fill="#000" fill-opacity="0.75"/><circle cx="457.8" cy="54.4" r="1.25" fill="#000" fill-opacity="0.75"/><circle cx="465.8" cy="49.8" r="1.25" fill="#000" fill-opacity="0.75"/><circle cx="465.8" cy="40.6" r="1.25" fill="#000" fill-opacity="0.75"/><circle cx="511.0" cy="67.1" r="1.25" fill="#000" fill-opacity="0.75"/><circle cx="503.0" cy="71.7" r="1.25" fill="#000" fill-opacity="0.75"/><circle cx="503.0" cy="80.9" r="1.25" fill="#000" fill-opacity="0.75"/><circle cx="511.0" cy="85.5" r="1.25" fill="#000" fill-opacity="0.75"/><circle cx="519.0" cy="80.9" r="1.25" fill="#000" fill-opacity="0.75"/><circle cx="519.0" cy="71.7" r="1.25" fill="#000" fill-opacity="0.75"/><circle cx="510.2" cy="126.7" r="1.25" fill="#000" fill-opacity="0.75"/><circle cx="502.2" cy="131.3" r="1.25" fill="#000" fill-opacity="0.75"/><circle cx="502.2" cy="140.5" r="1.25" fill="#000" fill-opacity="0.75"/><circle cx="510.2" cy="145.1" r="1.25" fill="#000" fill-opacity="0.75"/><circle cx="518.2" cy="140.5" r="1.25" fill="#000" fill-opacity="0.75"/><circle cx="518.2" cy="131.3" r="1.25" fill="#000" fill-opacity="0.75"/><circle cx="405.9" cy="66.3" r="1.25" fill="#000" fill-opacity="0.75"/><circle cx="397.9" cy="70.9" r="1.25" fill="#000" fill-opacity="0.75"/><circle cx="397.9" cy="80.1" r="1.25" fill="#000" fill-opacity="0.75"/><circle cx="405.9" cy="84.7" r="1.25" fill="#000" fill-opacity="0.75"/><circle cx="413.9" cy="80.1" r="1.25" fill="#000" fill-opacity="0.75"/><circle cx="413.9" cy="70.9" r="1.25" fill="#000" fill-opacity="0.75"/><circle cx="407.3" cy="124.6" r="1.25" fill="#000" fill-opacity="0.75"/><circle cx="399.3" cy="129.2" r="1.25" fill="#000" fill-opacity="0.75"/><circle cx="399.3" cy="138.4" r="1.25" fill="#000" fill-opacity="0.75"/><circle cx="407.3" cy="143.0" r="1.25" fill="#000" fill-opacity="0.75"/><circle cx="415.3" cy="138.4" r="1.25" fill="#000" fill-opacity="0.75"/><circle cx="415.3" cy="129.2" r="1.25" fill="#000" fill-opacity="0.75"/><circle cx="457.8" cy="154.9" r="1.25" fill="#000" fill-opacity="0.75"/><circle cx="449.8" cy="159.5" r="1.25" fill="#000" fill-opacity="0.75"/><circle cx="449.8" cy="168.7" r="1.25" fill="#000" fill-opacity="0.75"/><circle cx="457.8" cy="173.3" r="1.25" fill="#000" fill-opacity="0.75"/><circle cx="465.8" cy="168.7" r="1.25" fill="#000" fill-opacity="0.75"/><circle cx="465.8" cy="159.5" r="1.25" fill="#000" fill-opacity="0.75"/><circle cx="496.8" cy="100.9" r="1.00" fill="#000" fill-opacity="0.80"/><circle cx="487.8" cy="106.1" r="1.00" fill="#000" fill-opacity="0.80"/><circle cx="496.8" cy="111.3" r="1.00" fill="#000" fill-opacity="0.80"/><circle cx="531.8" cy="106.1" r="1.00" fill="#000" fill-opacity="0.60"/><circle cx="523.5" cy="101.3" r="1.00" fill="#000" fill-opacity="0.60"/><circle cx="523.5" cy="110.9" r="1.00" fill="#000" fill-opacity="0.60"/><circle cx="481.6" cy="74.5" r="1.00" fill="#000" fill-opacity="0.80"/><circle cx="472.6" cy="69.3" r="1.00" fill="#000" fill-opacity="0.80"/><circle cx="472.6" cy="79.7" r="1.00" fill="#000" fill-opacity="0.80"/><circle cx="494.6" cy="41.6" r="1.00" fill="#000" fill-opacity="0.60"/><circle cx="486.3" cy="46.3" r="1.00" fill="#000" fill-opacity="0.60"/><circle cx="494.6" cy="51.1" r="1.00" fill="#000" fill-opacity="0.60"/><circle cx="442.1" cy="69.3" r="1.00" fill="#000" fill-opacity="0.80"/><circle cx="433.1" cy="74.5" r="1.00" fill="#000" fill-opacity="0.80"/><circle cx="442.1" cy="79.7" r="1.00" fill="#000" fill-opacity="0.80"/><circle cx="428.3" cy="46.3" r="1.00" fill="#000" fill-opacity="0.60"/><circle cx="420.1" cy="41.6" r="1.00" fill="#000" fill-opacity="0.60"/><circle cx="420.1" cy="51.1" r="1.00" fill="#000" fill-opacity="0.60"/><circle cx="426.8" cy="106.1" r="1.00" fill="#000" fill-opacity="0.80"/><circle cx="417.8" cy="100.9" r="1.00" fill="#000" fill-opacity="0.80"/><circle cx="417.8" cy="111.3" r="1.00" fill="#000" fill-opacity="0.80"/><circle cx="391.1" cy="101.3" r="1.00" fill="#000" fill-opacity="0.60"/><circle cx="382.8" cy="106.1" r="1.00" fill="#000" fill-opacity="0.60"/><circle cx="391.1" cy="110.9" r="1.00" fill="#000" fill-opacity="0.60"/><circle cx="442.1" cy="132.5" r="1.00" fill="#000" fill-opacity="0.80"/><circle cx="433.1" cy="137.7" r="1.00" fill="#000" fill-opacity="0.80"/><circle cx="442.1" cy="142.9" r="1.00" fill="#000" fill-opacity="0.80"/><circle cx="428.3" cy="165.9" r="1.00" fill="#000" fill-opacity="0.60"/><circle cx="420.0" cy="161.1" r="1.00" fill="#000" fill-opacity="0.60"/><circle cx="420.0" cy="170.6" r="1.00" fill="#000" fill-opacity="0.60"/><circle cx="481.6" cy="137.7" r="1.00" fill="#000" fill-opacity="0.80"/><circle cx="472.6" cy="132.5" r="1.00" fill="#000" fill-opacity="0.80"/><circle cx="472.6" cy="142.9" r="1.00" fill="#000" fill-opacity="0.80"/><circle cx="494.6" cy="161.1" r="1.00" fill="#000" fill-opacity="0.60"/><circle cx="486.3" cy="165.9" r="1.00" fill="#000" fill-opacity="0.60"/><circle cx="494.6" cy="170.6" r="1.00" fill="#000" fill-opacity="0.60"/><circle cx="412.6" cy="179.5" r="1.20" fill="#000" fill-opacity="0.70"/><circle cx="397.0" cy="161.6" r="1.00" fill="#000" fill-opacity="0.50"/><circle cx="422.5" cy="164.9" r="0.90" fill="#000" fill-opacity="0.35"/><circle cx="429.8" cy="161.6" r="0.90" fill="#000" fill-opacity="0.35"/></g>
<circle cx="457.8" cy="45.2" r="9" fill="url(#halo)" opacity="0.6"/>
<circle cx="457.8" cy="45.2" r="1.5" fill="#000" fill-opacity="0.95" filter="url(#bs)"/>
<circle cx="511.0" cy="76.3" r="9" fill="url(#halo)" opacity="0.6"/>
<circle cx="511.0" cy="76.3" r="1.5" fill="#000" fill-opacity="0.95" filter="url(#bs)"/>
<circle cx="510.2" cy="135.9" r="9" fill="url(#halo)" opacity="0.6"/>
<circle cx="510.2" cy="135.9" r="1.5" fill="#000" fill-opacity="0.95" filter="url(#bs)"/>
<circle cx="405.9" cy="75.5" r="9" fill="url(#halo)" opacity="0.6"/>
<circle cx="405.9" cy="75.5" r="1.5" fill="#000" fill-opacity="0.95" filter="url(#bs)"/>
<circle cx="407.3" cy="133.8" r="9" fill="url(#halo)" opacity="0.6"/>
<circle cx="407.3" cy="133.8" r="1.5" fill="#000" fill-opacity="0.95" filter="url(#bs)"/>
<circle cx="457.8" cy="164.1" r="9" fill="url(#halo)" opacity="0.6"/>
<circle cx="457.8" cy="164.1" r="1.5" fill="#000" fill-opacity="0.95" filter="url(#bs)"/>
<g stroke="#000" stroke-opacity="0.45" stroke-width="1.1" stroke-linecap="round" filter="url(#bs)"><line x1="407.3" y1="177.6" x2="414.7" y2="174.3"/><line x1="416.7" y1="182.5" x2="424.1" y2="179.7"/></g>
</g>
<circle cx="457.4" cy="106.45" r="88.2" fill="none" stroke="#111" stroke-width="1.5"/>
<rect x="441.4" y="90.6" width="32.3" height="31.4" fill="none" stroke="#3a8ee6" stroke-width="1.4"/>
<line x1="408.8" y1="127.4" x2="416.8" y2="113.7" stroke="#f0a800" stroke-width="1.8"/>
<polygon points="420.4,107.7 419.5,115.9 413.7,112.4" fill="#f0a800"/>
<line x1="481.8" y1="127.4" x2="489.1" y2="114.6" stroke="#f0a800" stroke-width="1.8"/>
<polygon points="492.6,108.5 491.8,116.7 485.9,113.3" fill="#f0a800"/>
<text x="9" y="11.5" font-size="10.4" fill="#222" stroke="#222" stroke-width="0.3" text-anchor="start" >a)</text>
<text x="97.8" y="11.5" font-size="10.4" fill="#222" stroke="#222" stroke-width="0.3" text-anchor="middle" >buffer layer</text>
<text x="188.5" y="11.5" font-size="10.4" fill="#222" stroke="#222" stroke-width="0.3" text-anchor="start" >b)</text>
<text x="277.7" y="11.5" font-size="10.4" fill="#222" stroke="#222" stroke-width="0.3" text-anchor="middle" >adsorbed Pb</text>
<text x="367.8" y="11.5" font-size="10.4" fill="#222" stroke="#222" stroke-width="0.3" text-anchor="start" >c)</text>
<text x="457.5" y="11.5" font-size="10.4" fill="#222" stroke="#222" stroke-width="0.3" text-anchor="middle" >intercalated Pb</text>
<radialGradient id="gb"><stop offset="0" stop-color="#000" stop-opacity="0.85"/><stop offset="0.15" stop-color="#000" stop-opacity="0.7"/><stop offset="0.35" stop-color="#000" stop-opacity="0.38"/><stop offset="0.6" stop-color="#000" stop-opacity="0.12"/><stop offset="0.8" stop-color="#000" stop-opacity="0.03"/><stop offset="1" stop-color="#000" stop-opacity="0"/></radialGradient>
<radialGradient id="gs"><stop offset="0" stop-color="#000" stop-opacity="0.6"/><stop offset="0.3" stop-color="#000" stop-opacity="0.45"/><stop offset="0.6" stop-color="#000" stop-opacity="0.15"/><stop offset="1" stop-color="#000" stop-opacity="0"/></radialGradient>
<g clip-path="url(#cpd)"><rect x="23" y="213.5" width="165" height="164.3" fill="#eaeaea"/>
<circle cx="105.4" cy="237.1" r="8" fill="url(#gb)" opacity="0.8"/>
<circle cx="55.4" cy="265.2" r="8" fill="url(#gb)" opacity="0.8"/>
<circle cx="105.4" cy="295.3" r="7" fill="url(#gb)" opacity="0.95"/>
<circle cx="155.6" cy="264.6" r="0.1" fill="url(#gb)" opacity="0"/>
<circle cx="55.3" cy="323.4" r="10" fill="url(#gb)" opacity="0.8"/>
<circle cx="156.7" cy="323.0" r="10" fill="url(#gb)" opacity="0.75"/>
<circle cx="82.5" cy="334.2" r="4.5" fill="url(#gb)" opacity="0.2"/>
<circle cx="128.9" cy="335.2" r="4.5" fill="url(#gb)" opacity="0.5"/>
<circle cx="105.8" cy="352.6" r="10" fill="url(#gb)" opacity="0.8"/>
<circle cx="36.7" cy="235" r="6" fill="url(#gb)" opacity="0.12"/>
<circle cx="176.3" cy="235" r="6" fill="url(#gb)" opacity="0.12"/>
<circle cx="36.7" cy="351.7" r="6" fill="url(#gb)" opacity="0.12"/>
<circle cx="176.3" cy="351.7" r="6" fill="url(#gb)" opacity="0.12"/>
<circle cx="105.4" cy="213.5" r="7" fill="url(#gb)" opacity="0.3"/>
<circle cx="82.0" cy="255.3" r="5.5" fill="url(#gs)" opacity="0.7"/>
<circle cx="128.7" cy="255.5" r="5.5" fill="url(#gs)" opacity="0.7"/>
<circle cx="156.9" cy="265.2" r="9" fill="url(#gs)" opacity="0.85"/>
<circle cx="59.1" cy="294.8" r="5" fill="url(#gs)" opacity="0.7"/>
<circle cx="151.8" cy="294.9" r="5" fill="url(#gs)" opacity="0.65"/>
<circle cx="105.4" cy="295.3" r="1.6" fill="#000"/>
<polyline points="54.6,212 54.6,265 105.6,295.3 105.6,237 66,212" fill="none" stroke="#e03030" stroke-opacity="0.26" stroke-width="2.5" stroke-linejoin="round"/>
<polyline points="105.4,295.2 73.2,295.2 55.3,323.4 85.5,323.4" fill="none" stroke="#40c040" stroke-opacity="0.27" stroke-width="2.2" stroke-linejoin="round"/>
<line x1="105.4" y1="295.2" x2="90.2" y2="319.6" stroke="#40c040" stroke-opacity="0.27" stroke-width="2.2"/>
</g>
<circle cx="87.8" cy="323.5" r="4.3" fill="none" stroke="#40c040" stroke-width="1"/>
<line x1="85.4" y1="327.3" x2="58.6" y2="356.2" stroke="#40c040" stroke-width="1"/>
<circle cx="129.0" cy="335.2" r="4.3" fill="none" stroke="#3a8ee6" stroke-width="1"/>
<line x1="130" y1="339.6" x2="135.3" y2="360.6" stroke="#3a8ee6" stroke-width="1"/>
<line x1="44.5" y1="318.7" x2="53.5" y2="304.5" stroke="#2a80e0" stroke-width="1.7"/>
<polygon points="56.4,299.9 55.9,306.7 50.5,303.3" fill="#2a80e0"/>
<line x1="138.6" y1="318.7" x2="147.4" y2="304.7" stroke="#2a80e0" stroke-width="1.7"/>
<polygon points="150.3,300.0 149.8,306.8 144.4,303.4" fill="#2a80e0"/>
<line x1="114.3" y1="236.2" x2="123.2" y2="236.2" stroke="#e03030" stroke-width="1"/>
<text x="126.5" y="240.3" font-size="10.4" fill="#e03030" stroke="#e03030" stroke-width="0.3" text-anchor="start" >(6 x 6)<tspan font-size="7.5" dy="2">SiC</tspan></text>
<text x="26.5" y="369.4" font-size="10.4" fill="#40c040" stroke="#40c040" stroke-width="0.3" text-anchor="start" >(6√<tspan text-decoration="overline">3</tspan> x 6√<tspan text-decoration="overline">3</tspan>)<tspan font-size="7.5" dy="2">SiC</tspan></text>
<text x="99.5" y="369.4" font-size="10.3" fill="#3a8ee6" stroke="#3a8ee6" stroke-width="0.3" text-anchor="start" >intercalated phase</text>
<rect x="22.8" y="213.5" width="165.4" height="164.3" fill="none" stroke="#3a8ee6" stroke-width="1.3"/>
<text x="10" y="221.5" font-size="10.4" fill="#222" stroke="#222" stroke-width="0.3" text-anchor="start" >d)</text>
<text x="193.7" y="220.4" font-size="10.4" fill="#222" stroke="#222" stroke-width="0.3" text-anchor="start" >e)</text>
<g clip-path="url(#cpe)" fill="none" stroke-linejoin="round">
<path d="M212.70,369.08 L213.20,369.21 L213.70,369.14 L214.20,369.09 L214.70,369.17 L215.20,369.30 L215.70,369.18 L216.20,369.30 L216.70,369.46 L217.20,369.23 L217.70,369.28 L218.20,369.17 L218.70,369.04 L219.20,368.85 L219.70,368.70 L220.20,368.45 L220.70,368.37 L221.20,368.38 L221.70,368.41 L222.20,368.54 L222.70,368.73 L223.20,368.76 L223.70,368.78 L224.20,368.83 L224.70,368.96 L225.20,368.85 L225.70,368.96 L226.20,368.73 L226.70,368.64 L227.20,368.28 L227.70,368.22 L228.20,368.40 L228.70,368.37 L229.20,368.53 L229.70,368.83 L230.20,368.97 L230.70,368.89 L231.20,369.22 L231.70,369.25 L232.20,369.18 L232.70,369.15 L233.20,369.02 L233.70,368.84 L234.20,368.70 L234.70,368.64 L235.20,368.84 L235.70,368.69 L236.20,368.67 L236.70,368.56 L237.20,368.41 L237.70,368.51 L238.20,368.44 L238.70,368.54 L239.20,368.59 L239.70,369.04 L240.20,368.57 L240.70,368.98 L241.20,368.89 L241.70,368.86 L242.20,368.42 L242.70,368.39 L243.20,367.51 L243.70,366.62 L244.20,365.34 L244.70,364.00 L245.20,362.10 L245.70,361.02 L246.20,360.33 L246.70,360.18 L247.20,360.69 L247.70,362.10 L248.20,363.70 L248.70,365.25 L249.20,366.69 L249.70,367.69 L250.20,368.41 L250.70,368.59 L251.20,368.65 L251.70,369.01 L252.20,368.85 L252.70,368.45 L253.20,368.46 L253.70,368.55 L254.20,368.35 L254.70,368.56 L255.20,368.97 L255.70,369.02 L256.20,369.16 L256.70,369.06 L257.20,369.04 L257.70,369.29 L258.20,369.31 L258.70,369.08 L259.20,369.41 L259.70,369.55 L260.20,369.25 L260.70,369.04 L261.20,369.20 L261.70,368.82 L262.20,368.60 L262.70,368.51 L263.20,368.59 L263.70,368.69 L264.20,368.74 L264.70,368.69 L265.20,368.93 L265.70,369.00 L266.20,368.96 L266.70,369.16 L267.20,369.31 L267.70,369.22 L268.20,369.20 L268.70,368.96 L269.20,368.90 L269.70,369.09 L270.20,369.12 L270.70,369.10 L271.20,369.21 L271.70,369.03 L272.20,368.77 L272.70,368.70 L273.20,368.63 L273.70,368.61 L274.20,368.51 L274.70,368.63 L275.20,368.64 L275.70,368.48 L276.20,367.97 L276.70,367.59 L277.20,366.84 L277.70,365.78 L278.20,365.06 L278.70,364.93 L279.20,365.31 L279.70,365.89 L280.20,367.06 L280.70,367.93 L281.20,368.67 L281.70,368.90 L282.20,369.11 L282.70,368.86 L283.20,368.82 L283.70,368.68 L284.20,368.76 L284.70,368.82 L285.20,368.91 L285.70,369.04 L286.20,369.19 L286.70,369.09 L287.20,369.00 L287.70,368.99 L288.20,368.91 L288.70,368.45 L289.20,367.29 L289.70,364.95 L290.20,360.30 L290.70,352.97 L291.20,343.82 L291.70,333.99 L292.20,324.60 L292.70,316.66 L293.20,310.61 L293.70,306.67 L294.20,305.04 L294.70,305.75 L295.20,308.73 L295.70,313.95 L296.20,321.21 L296.70,330.10 L297.20,339.83 L297.70,349.57 L298.20,357.63 L298.70,363.28 L299.20,366.50 L299.70,368.19 L300.20,368.65 L300.70,368.84 L301.20,368.89 L301.70,368.68 L302.20,368.67 L302.70,368.77 L303.20,368.76 L303.70,368.90 L304.20,368.96 L304.70,369.11 L305.20,368.76 L305.70,368.47 L306.20,368.25 L306.70,368.27 L307.20,367.93 L307.70,368.11 L308.20,368.10 L308.70,367.86 L309.20,367.61 L309.70,367.57 L310.20,367.63 L310.70,367.82 L311.20,367.89 L311.70,367.88 L312.20,367.80 L312.70,367.66 L313.20,367.57 L313.70,367.63 L314.20,367.55 L314.70,367.78 L315.20,367.60 L315.70,367.71 L316.20,367.42 L316.70,367.67 L317.20,367.41 L317.70,367.53 L318.20,367.44 L318.70,367.41 L319.20,367.03 L319.70,366.72 L320.20,366.76 L320.70,366.51 L321.20,366.44 L321.70,366.49 L322.20,366.89 L322.70,366.46 L323.20,366.47 L323.70,366.34 L324.20,366.16 L324.70,365.27 L325.20,364.64 L325.70,363.45 L326.20,361.83 L326.70,359.65 L327.20,357.26 L327.70,355.05 L328.20,353.34 L328.70,352.38 L329.20,352.41 L329.70,353.72 L330.20,355.64 L330.70,357.89 L331.20,360.36 L331.70,362.26 L332.20,363.55 L332.70,364.31 L333.20,364.72 L333.70,364.79 L334.20,364.95 L334.70,364.88 L335.20,364.85 L335.70,365.02 L336.20,364.85 L336.70,364.88 L337.20,364.84 L337.70,364.69 L338.20,364.48 L338.70,364.34 L339.20,364.28 L339.70,364.04 L340.20,363.97 L340.70,363.89 L341.20,364.07 L341.70,364.01 L342.20,364.20 L342.70,364.21 L343.20,364.03 L343.70,363.97 L344.20,363.88 L344.70,363.63 L345.20,363.75 L345.70,363.87 L346.20,363.67 L346.70,363.66 L347.20,363.59 L347.70,363.35 L348.20,363.35 L348.70,363.25 L349.20,363.18 L349.70,363.16 L350.20,363.33 L350.70,363.17 L351.20,363.36 L351.70,363.15 L352.20,363.25 L352.70,363.25 L353.20,363.37 L353.70,363.10 L354.20,363.37 L354.70,363.50 L355.20,363.32 L355.70,363.41 L356.20,363.48 L356.70,363.34 L357.20,363.34 L357.70,363.52 L358.20,363.48 L358.70,363.45 L359.20,363.23 L359.70,363.12 L360.20,362.77 L360.70,362.57 L361.20,362.53 L361.70,362.85 L362.20,362.77 L362.70,362.73 L363.20,362.47 L363.70,362.35 L364.20,361.91 L364.70,361.58 L365.20,361.27 L365.70,361.05 L366.20,360.71 L366.70,360.70 L367.20,360.41 L367.70,360.27 L368.20,360.09 L368.70,359.76 L369.20,359.05 L369.70,358.89 L370.20,358.40 L370.70,357.96 L371.20,357.66 L371.70,357.36 L372.20,356.51 L372.70,355.93 L373.20,355.10 L373.70,354.04 L374.20,352.01 L374.70,349.08 L375.20,343.49 L375.70,334.09 L376.20,320.61 L376.70,303.72 L377.20,284.53 L377.70,264.28 L378.20,243.90 L378.70,225.38 L379.20,222.62 L379.70,239.91 L380.20,260.19 L380.70,280.52 L381.20,299.98 L381.70,317.52 L382.20,331.82 L382.70,341.96 L383.20,348.23 L383.70,351.62 L384.20,353.34 L384.70,354.30 L385.20,354.72 L385.70,355.24 L386.20,355.56 L386.70,355.82 L387.20,356.25 L387.70,356.83 L388.20,357.20 L388.70,357.82 L389.20,358.44 L389.70,358.88 L390.20,359.09 L390.70,359.28 L391.20,359.52 L391.70,359.78 L392.20,359.99 L392.70,360.24 L393.20,360.69 L393.70,360.72 L394.20,360.88 L394.70,360.81 L395.20,360.61 L395.70,360.53 L396.20,360.87 L396.70,360.72 L397.20,361.07 L397.70,361.39 L398.20,361.52 L398.70,361.47 L399.20,361.82 L399.70,361.71 L400.20,361.92 L400.70,362.12 L401.20,362.32 L401.70,362.30 L402.20,362.70 L402.70,363.02 L403.20,363.35 L403.70,363.19 L404.20,363.40 L404.70,363.10 L405.20,363.01 L405.70,362.89 L406.20,363.01 L406.70,362.90 L407.20,363.25 L407.70,363.38 L408.20,363.31 L408.70,363.52 L409.20,363.51 L409.70,363.50 L410.20,363.54 L410.70,363.76 L411.20,364.08 L411.70,364.34 L412.20,364.26 L412.70,364.40 L413.20,364.41 L413.70,364.35 L414.20,364.67 L414.70,365.12 L415.20,365.33 L415.70,365.67 L416.20,365.53 L416.70,365.54 L417.20,365.81 L417.70,365.69 L418.20,365.74 L418.70,366.03 L419.20,366.09 L419.70,366.14 L420.20,366.39 L420.70,366.30 L421.20,366.46 L421.70,366.41 L422.20,366.17 L422.70,366.19 L423.20,366.23 L423.70,365.91 L424.20,365.84 L424.70,365.30 L425.20,364.07 L425.70,362.12 L426.20,359.44 L426.70,356.28 L427.20,353.39 L427.70,351.21 L428.20,350.34 L428.70,350.90 L429.20,352.73 L429.70,355.46 L430.20,358.64 L430.70,361.67 L431.20,363.97 L431.70,365.54 L432.20,366.30 L432.70,366.80 L433.20,367.12 L433.70,367.16 L434.20,367.03 L434.70,367.27 L435.20,367.57 L435.70,367.62 L436.20,367.75 L436.70,367.92 L437.20,367.98 L437.70,367.72 L438.20,367.60 L438.70,367.66 L439.20,367.59 L439.70,367.58 L440.20,367.71 L440.70,367.64 L441.20,367.57 L441.70,367.90 L442.20,368.23 L442.70,368.27 L443.20,368.36 L443.70,368.59 L444.20,368.49 L444.70,368.21 L445.20,368.44 L445.70,368.41 L446.20,368.30 L446.70,368.28 L447.20,368.31 L447.70,368.15 L448.20,368.38 L448.70,368.68 L449.20,368.88 L449.70,369.02 L450.20,368.94 L450.70,368.90 L451.20,368.65 L451.70,368.60 L452.20,368.75 L452.70,368.96 L453.20,368.98 L453.70,369.04 L454.20,369.09 L454.70,369.02 L455.20,368.92 L455.70,368.90 L456.20,369.05 L456.70,368.58 L457.20,367.55 L457.70,364.84 L458.20,359.06 L458.70,348.96 L459.20,335.97 L459.70,322.10 L460.20,309.21 L460.70,298.24 L461.20,289.73 L461.70,283.88 L462.20,280.80 L462.70,280.52 L463.20,283.04 L463.70,288.35 L464.20,296.33 L464.70,306.80 L465.20,319.39 L465.70,333.18 L466.20,346.62 L466.70,357.56 L467.20,364.48 L467.70,367.88 L468.20,369.33 L468.70,369.72 L469.20,369.99 L469.70,370.15 L470.20,369.92 L470.70,369.97 L471.20,369.95 L471.70,369.85 L472.20,369.74 L472.70,369.79 L473.20,369.46 L473.70,369.48 L474.20,369.56 L474.70,369.73 L475.20,369.86 L475.70,369.98 L476.20,369.93 L476.70,370.25 L477.20,370.19 L477.70,370.25 L478.20,370.31 L478.70,370.32 L479.20,370.12 L479.70,370.19 L480.20,370.43 L480.70,370.71 L481.20,370.90 L481.70,370.87 L482.20,370.74 L482.70,370.35 L483.20,370.11 L483.70,370.15 L484.20,370.22 L484.70,370.39 L485.20,370.53 L485.70,370.78 L486.20,370.79 L486.70,370.87 L487.20,370.89 L487.70,370.81 L488.20,370.66 L488.70,370.55 L489.20,370.78 L489.70,370.74 L490.20,370.96 L490.70,371.13 L491.20,371.11 L491.70,371.06 L492.20,371.00 L492.70,371.06 L493.20,370.84 L493.70,371.07 L494.20,370.64 L494.70,370.80 L495.20,370.71 L495.70,370.83 L496.20,370.59 L496.70,370.88 L497.20,370.82 L497.70,370.99 L498.20,371.02 L498.70,371.23 L499.20,371.32 L499.70,371.26 L500.20,371.04 L500.70,370.85 L501.20,370.86 L501.70,370.70 L502.20,370.87 L502.70,371.01 L503.20,371.05 L503.70,371.07 L504.20,371.35 L504.70,371.20 L505.20,371.09 L505.70,371.11 L506.20,371.10 L506.70,370.80 L507.20,370.77 L507.70,370.97 L508.20,371.07 L508.70,370.98 L509.20,370.98 L509.70,370.96 L510.20,370.89 L510.70,370.91 L511.20,370.97 L511.70,370.97 L512.20,371.09 L512.70,371.13 L513.20,371.12 L513.70,371.12 L514.20,371.30 L514.70,371.28 L515.20,371.23 L515.70,371.11 L516.20,371.08 L516.70,370.95 L517.20,370.88 L517.70,370.78 L518.20,370.96 L518.70,371.23 L519.20,371.29 L519.70,371.34 L520.20,371.49 L520.70,371.35 L521.20,371.06 L521.70,370.92 L522.20,370.84 L522.70,370.81 L523.20,370.91 L523.70,370.89 L524.20,370.87 L524.70,370.98 L525.20,370.82 L525.70,370.88 L526.20,370.86 L526.70,370.95 L527.20,371.01 L527.70,371.21 L528.20,370.96 L528.70,370.98 L529.20,371.02 L529.70,370.80 L530.20,370.44 L530.70,370.59 L531.20,370.61 L531.70,370.62 L532.20,370.76 L532.70,371.06 L533.20,371.10 L533.70,371.27 L534.20,371.28 L534.70,371.33 L535.20,371.27 L535.70,371.38 L536.20,371.19 L536.70,371.22 L537.20,370.90 L537.70,370.98 L538.20,370.83 L538.70,370.80 L539.20,370.86 L539.70,371.17 L540.20,371.12 L540.70,371.07 L541.20,371.35 L541.70,371.28 L542.20,371.31 L542.70,371.24 L543.20,371.46 L543.70,371.30 L544.20,371.26 L544.70,371.22" stroke="#b4b4b4" stroke-width="1.8"/>
<path d="M212.70,366.99 L213.20,367.78 L213.70,367.30 L214.20,367.73 L214.70,366.47 L215.20,367.94 L215.70,368.09 L216.20,369.65 L216.70,368.96 L217.20,369.04 L217.70,368.33 L218.20,368.23 L218.70,368.12 L219.20,367.70 L219.70,367.86 L220.20,368.10 L220.70,368.67 L221.20,368.63 L221.70,369.20 L222.20,368.92 L222.70,368.07 L223.20,365.75 L223.70,363.49 L224.20,361.71 L224.70,360.79 L225.20,362.39 L225.70,364.45 L226.20,366.77 L226.70,367.75 L227.20,369.36 L227.70,369.47 L228.20,368.99 L228.70,369.20 L229.20,368.67 L229.70,368.78 L230.20,368.00 L230.70,369.62 L231.20,369.37 L231.70,368.03 L232.20,367.32 L232.70,367.51 L233.20,368.39 L233.70,368.31 L234.20,368.63 L234.70,368.92 L235.20,368.54 L235.70,369.00 L236.20,369.52 L236.70,369.72 L237.20,368.97 L237.70,368.64 L238.20,368.83 L238.70,368.57 L239.20,368.05 L239.70,368.27 L240.20,368.58 L240.70,368.29 L241.20,367.01 L241.70,365.06 L242.20,361.87 L242.70,357.04 L243.20,353.51 L243.70,350.83 L244.20,350.38 L244.70,351.77 L245.20,355.18 L245.70,359.73 L246.20,363.77 L246.70,367.37 L247.20,369.18 L247.70,370.09 L248.20,370.28 L248.70,369.66 L249.20,368.76 L249.70,368.17 L250.20,367.87 L250.70,367.98 L251.20,368.20 L251.70,369.40 L252.20,369.76 L252.70,368.38 L253.20,368.95 L253.70,368.94 L254.20,370.09 L254.70,369.29 L255.20,368.30 L255.70,367.35 L256.20,366.61 L256.70,368.18 L257.20,368.44 L257.70,368.87 L258.20,367.92 L258.70,368.53 L259.20,368.85 L259.70,369.08 L260.20,368.29 L260.70,366.72 L261.20,366.68 L261.70,367.35 L262.20,369.25 L262.70,369.14 L263.20,368.76 L263.70,368.41 L264.20,367.79 L264.70,367.61 L265.20,367.00 L265.70,367.81 L266.20,369.17 L266.70,369.95 L267.20,370.32 L267.70,369.53 L268.20,369.32 L268.70,368.64 L269.20,368.42 L269.70,367.25 L270.20,366.93 L270.70,366.50 L271.20,367.92 L271.70,368.74 L272.20,369.80 L272.70,370.12 L273.20,369.70 L273.70,369.67 L274.20,369.85 L274.70,369.98 L275.20,370.00 L275.70,369.09 L276.20,368.40 L276.70,367.99 L277.20,367.71 L277.70,368.46 L278.20,368.22 L278.70,368.72 L279.20,367.75 L279.70,368.86 L280.20,369.32 L280.70,370.10 L281.20,368.81 L281.70,368.23 L282.20,368.68 L282.70,369.26 L283.20,369.44 L283.70,368.30 L284.20,367.63 L284.70,368.05 L285.20,369.01 L285.70,368.85 L286.20,367.90 L286.70,367.17 L287.20,367.39 L287.70,368.27 L288.20,368.75 L288.70,369.44 L289.20,368.16 L289.70,365.18 L290.20,358.96 L290.70,349.69 L291.20,336.81 L291.70,323.11 L292.20,310.69 L292.70,300.71 L293.20,293.56 L293.70,289.45 L294.20,288.46 L294.70,290.69 L295.20,295.97 L295.70,304.31 L296.20,315.24 L296.70,328.37 L297.20,342.16 L297.70,353.95 L298.20,361.34 L298.70,366.06 L299.20,368.90 L299.70,369.45 L300.20,370.00 L300.70,369.40 L301.20,369.35 L301.70,368.21 L302.20,368.77 L302.70,370.00 L303.20,370.50 L303.70,369.89 L304.20,368.91 L304.70,367.80 L305.20,367.94 L305.70,367.92 L306.20,368.66 L306.70,368.12 L307.20,368.14 L307.70,367.63 L308.20,367.64 L308.70,367.33 L309.20,367.26 L309.70,367.26 L310.20,368.02 L310.70,368.50 L311.20,368.43 L311.70,368.39 L312.20,368.46 L312.70,369.68 L313.20,369.36 L313.70,369.13 L314.20,368.16 L314.70,368.29 L315.20,368.59 L315.70,368.96 L316.20,368.78 L316.70,368.80 L317.20,368.75 L317.70,368.96 L318.20,368.28 L318.70,368.32 L319.20,367.76 L319.70,367.78 L320.20,367.75 L320.70,369.11 L321.20,369.92 L321.70,369.83 L322.20,368.81 L322.70,368.79 L323.20,369.39 L323.70,370.00 L324.20,369.45 L324.70,368.86 L325.20,368.03 L325.70,367.64 L326.20,366.50 L326.70,365.38 L327.20,363.08 L327.70,361.27 L328.20,360.12 L328.70,359.86 L329.20,360.72 L329.70,361.29 L330.20,363.13 L330.70,364.75 L331.20,366.18 L331.70,366.87 L332.20,368.21 L332.70,368.56 L333.20,368.62 L333.70,367.28 L334.20,367.59 L334.70,367.88 L335.20,368.56 L335.70,368.88 L336.20,368.70 L336.70,368.10 L337.20,367.11 L337.70,366.61 L338.20,366.43 L338.70,367.37 L339.20,368.07 L339.70,368.74 L340.20,368.81 L340.70,368.65 L341.20,369.20 L341.70,368.51 L342.20,368.28 L342.70,367.12 L343.20,367.82 L343.70,368.01 L344.20,367.84 L344.70,367.49 L345.20,368.02 L345.70,368.26 L346.20,367.93 L346.70,367.87 L347.20,368.32 L347.70,368.82 L348.20,367.97 L348.70,367.63 L349.20,367.33 L349.70,366.84 L350.20,367.22 L350.70,367.07 L351.20,367.68 L351.70,368.12 L352.20,368.10 L352.70,367.90 L353.20,366.84 L353.70,366.99 L354.20,367.64 L354.70,367.60 L355.20,366.92 L355.70,366.18 L356.20,365.78 L356.70,365.62 L357.20,365.85 L357.70,365.92 L358.20,366.34 L358.70,365.91 L359.20,365.67 L359.70,365.50 L360.20,365.64 L360.70,366.46 L361.20,366.07 L361.70,366.24 L362.20,365.61 L362.70,365.26 L363.20,365.32 L363.70,365.25 L364.20,364.74 L364.70,364.51 L365.20,364.69 L365.70,365.10 L366.20,365.41 L366.70,364.90 L367.20,364.57 L367.70,363.91 L368.20,363.59 L368.70,363.53 L369.20,362.35 L369.70,362.64 L370.20,362.93 L370.70,364.18 L371.20,364.26 L371.70,364.38 L372.20,363.88 L372.70,364.50 L373.20,365.48 L373.70,366.00 L374.20,364.88 L374.70,363.14 L375.20,360.99 L375.70,357.18 L376.20,347.07 L376.70,328.91 L377.20,304.81 L377.70,278.18 L378.20,250.96 L378.70,226.19 L379.20,222.50 L379.70,245.65 L380.20,272.77 L380.70,299.71 L381.20,324.35 L381.70,344.13 L382.20,356.51 L382.70,361.65 L383.20,363.73 L383.70,364.45 L384.20,366.87 L384.70,366.09 L385.20,365.99 L385.70,364.35 L386.20,364.75 L386.70,364.56 L387.20,364.06 L387.70,363.07 L388.20,363.29 L388.70,363.73 L389.20,364.35 L389.70,365.36 L390.20,365.95 L390.70,366.71 L391.20,365.58 L391.70,365.38 L392.20,364.85 L392.70,365.06 L393.20,365.33 L393.70,365.77 L394.20,366.07 L394.70,365.88 L395.20,365.06 L395.70,364.67 L396.20,364.85 L396.70,365.41 L397.20,365.46 L397.70,365.53 L398.20,365.36 L398.70,365.49 L399.20,365.79 L399.70,366.12 L400.20,367.12 L400.70,367.04 L401.20,367.63 L401.70,367.58 L402.20,366.47 L402.70,366.16 L403.20,365.17 L403.70,365.99 L404.20,366.06 L404.70,367.25 L405.20,367.48 L405.70,368.25 L406.20,367.47 L406.70,367.47 L407.20,366.79 L407.70,367.43 L408.20,367.43 L408.70,367.12 L409.20,366.56 L409.70,365.97 L410.20,366.79 L410.70,367.27 L411.20,368.07 L411.70,367.64 L412.20,367.04 L412.70,366.68 L413.20,366.91 L413.70,366.83 L414.20,366.66 L414.70,367.00 L415.20,368.03 L415.70,368.51 L416.20,368.05 L416.70,367.44 L417.20,367.94 L417.70,367.51 L418.20,367.47 L418.70,367.05 L419.20,367.88 L419.70,367.73 L420.20,367.62 L420.70,366.78 L421.20,366.60 L421.70,366.21 L422.20,366.46 L422.70,367.14 L423.20,367.12 L423.70,366.82 L424.20,366.26 L424.70,366.71 L425.20,367.30 L425.70,366.96 L426.20,366.99 L426.70,366.29 L427.20,367.18 L427.70,366.64 L428.20,366.63 L428.70,366.04 L429.20,366.47 L429.70,366.54 L430.20,366.98 L430.70,367.10 L431.20,367.61 L431.70,367.66 L432.20,368.01 L432.70,367.69 L433.20,367.61 L433.70,367.25 L434.20,366.71 L434.70,366.91 L435.20,366.62 L435.70,367.23 L436.20,366.90 L436.70,367.32 L437.20,367.81 L437.70,368.24 L438.20,367.93 L438.70,368.13 L439.20,368.13 L439.70,368.29 L440.20,368.00 L440.70,368.17 L441.20,368.53 L441.70,368.84 L442.20,368.54 L442.70,368.84 L443.20,369.51 L443.70,369.66 L444.20,368.47 L444.70,368.25 L445.20,367.81 L445.70,367.90 L446.20,366.12 L446.70,366.56 L447.20,367.63 L447.70,369.09 L448.20,368.74 L448.70,368.90 L449.20,368.43 L449.70,368.34 L450.20,367.74 L450.70,367.87 L451.20,368.14 L451.70,368.29 L452.20,367.25 L452.70,367.90 L453.20,367.48 L453.70,368.72 L454.20,367.69 L454.70,368.01 L455.20,367.65 L455.70,367.31 L456.20,367.39 L456.70,367.67 L457.20,367.61 L457.70,365.70 L458.20,362.78 L458.70,357.47 L459.20,348.62 L459.70,336.36 L460.20,323.62 L460.70,311.95 L461.20,302.58 L461.70,296.03 L462.20,292.49 L462.70,292.16 L463.20,294.95 L463.70,300.91 L464.20,309.73 L464.70,321.04 L465.20,334.01 L465.70,346.66 L466.20,357.10 L466.70,363.22 L467.20,366.51 L467.70,367.63 L468.20,367.91 L468.70,368.08 L469.20,367.95 L469.70,368.52 L470.20,368.38 L470.70,368.53 L471.20,369.21 L471.70,369.53 L472.20,369.62 L472.70,368.96 L473.20,368.25 L473.70,368.34 L474.20,368.20 L474.70,368.82 L475.20,368.94 L475.70,368.95 L476.20,369.28 L476.70,368.58 L477.20,368.42 L477.70,367.67 L478.20,368.49 L478.70,368.36 L479.20,368.03 L479.70,367.54 L480.20,367.05 L480.70,368.04 L481.20,367.85 L481.70,367.33 L482.20,366.74 L482.70,367.33 L483.20,368.42 L483.70,368.31 L484.20,368.15 L484.70,368.26 L485.20,369.16 L485.70,369.27 L486.20,369.18 L486.70,368.21 L487.20,367.94 L487.70,367.91 L488.20,368.26 L488.70,368.32 L489.20,367.68 L489.70,367.92 L490.20,367.74 L490.70,368.41 L491.20,368.12 L491.70,367.98 L492.20,367.94 L492.70,368.32 L493.20,368.31 L493.70,368.34 L494.20,367.67 L494.70,367.99 L495.20,367.86 L495.70,367.64 L496.20,367.96 L496.70,367.57 L497.20,368.15 L497.70,367.09 L498.20,366.72 L498.70,366.97 L499.20,366.93 L499.70,366.79 L500.20,366.41 L500.70,366.35 L501.20,367.15 L501.70,368.03 L502.20,368.52 L502.70,368.71 L503.20,368.00 L503.70,367.78 L504.20,366.42 L504.70,364.58 L505.20,361.25 L505.70,357.83 L506.20,354.57 L506.70,352.94 L507.20,353.51 L507.70,355.80 L508.20,359.73 L508.70,363.31 L509.20,366.54 L509.70,367.09 L510.20,367.26 L510.70,366.64 L511.20,367.16 L511.70,367.60 L512.20,367.77 L512.70,368.20 L513.20,367.33 L513.70,366.95 L514.20,366.86 L514.70,367.37 L515.20,367.52 L515.70,367.50 L516.20,367.57 L516.70,367.38 L517.20,368.14 L517.70,367.97 L518.20,368.70 L518.70,368.24 L519.20,368.95 L519.70,368.42 L520.20,367.74 L520.70,367.49 L521.20,367.76 L521.70,366.87 L522.20,364.82 L522.70,363.10 L523.20,362.00 L523.70,361.26 L524.20,361.15 L524.70,361.92 L525.20,364.84 L525.70,366.94 L526.20,369.17 L526.70,368.79 L527.20,367.72 L527.70,367.32 L528.20,366.97 L528.70,368.05 L529.20,367.90 L529.70,368.43 L530.20,367.86 L530.70,367.75 L531.20,367.47 L531.70,367.52 L532.20,367.48 L532.70,367.75 L533.20,368.89 L533.70,369.00 L534.20,369.09 L534.70,367.77 L535.20,367.67 L535.70,367.46 L536.20,368.19 L536.70,367.95 L537.20,368.07 L537.70,367.88 L538.20,368.88 L538.70,369.02 L539.20,369.20 L539.70,368.46 L540.20,368.18 L540.70,367.58 L541.20,367.39 L541.70,366.49 L542.20,366.30 L542.70,366.11 L543.20,366.86 L543.70,367.46 L544.20,367.42 L544.70,367.20" stroke="#9b30ff" stroke-width="1.6"/>
<path d="M212.70,361.63 L213.20,362.75 L213.70,363.81 L214.20,364.94 L214.70,365.88 L215.20,366.45 L215.70,366.64 L216.20,366.89 L216.70,367.44 L217.20,367.71 L217.70,367.90 L218.20,368.08 L218.70,368.24 L219.20,368.04 L219.70,368.05 L220.20,368.23 L220.70,368.04 L221.20,368.07 L221.70,367.95 L222.20,367.80 L222.70,367.52 L223.20,368.15 L223.70,368.32 L224.20,368.70 L224.70,368.76 L225.20,368.75 L225.70,368.51 L226.20,368.46 L226.70,368.38 L227.20,368.67 L227.70,368.89 L228.20,369.30 L228.70,369.41 L229.20,369.81 L229.70,369.76 L230.20,369.80 L230.70,369.32 L231.20,369.35 L231.70,369.18 L232.20,369.17 L232.70,369.28 L233.20,369.38 L233.70,369.16 L234.20,368.92 L234.70,368.56 L235.20,368.31 L235.70,368.36 L236.20,368.46 L236.70,368.70 L237.20,369.15 L237.70,369.41 L238.20,369.41 L238.70,368.98 L239.20,368.80 L239.70,368.52 L240.20,368.52 L240.70,368.43 L241.20,368.69 L241.70,368.42 L242.20,368.19 L242.70,367.18 L243.20,366.03 L243.70,364.93 L244.20,363.33 L244.70,361.30 L245.20,359.48 L245.70,357.86 L246.20,356.84 L246.70,356.30 L247.20,356.58 L247.70,357.54 L248.20,358.90 L248.70,360.47 L249.20,362.64 L249.70,364.67 L250.20,366.36 L250.70,367.78 L251.20,368.29 L251.70,368.49 L252.20,368.47 L252.70,368.33 L253.20,368.78 L253.70,368.84 L254.20,368.74 L254.70,368.39 L255.20,368.90 L255.70,368.57 L256.20,368.73 L256.70,368.88 L257.20,369.15 L257.70,368.74 L258.20,368.82 L258.70,368.68 L259.20,368.69 L259.70,369.06 L260.20,369.29 L260.70,369.46 L261.20,369.77 L261.70,370.00 L262.20,369.80 L262.70,369.71 L263.20,369.23 L263.70,368.98 L264.20,368.51 L264.70,368.41 L265.20,368.12 L265.70,368.34 L266.20,368.81 L266.70,368.77 L267.20,368.86 L267.70,369.12 L268.20,368.91 L268.70,368.36 L269.20,368.38 L269.70,368.32 L270.20,368.07 L270.70,368.63 L271.20,368.81 L271.70,369.08 L272.20,369.36 L272.70,369.69 L273.20,369.17 L273.70,369.04 L274.20,368.78 L274.70,368.31 L275.20,367.91 L275.70,366.85 L276.20,365.12 L276.70,362.90 L277.20,360.19 L277.70,357.28 L278.20,355.49 L278.70,355.05 L279.20,355.88 L279.70,357.81 L280.20,360.56 L280.70,363.09 L281.20,365.11 L281.70,366.33 L282.20,366.83 L282.70,367.23 L283.20,367.50 L283.70,367.35 L284.20,367.01 L284.70,367.31 L285.20,367.07 L285.70,367.19 L286.20,367.29 L286.70,367.48 L287.20,367.29 L287.70,367.35 L288.20,367.14 L288.70,366.79 L289.20,365.88 L289.70,363.93 L290.20,359.95 L290.70,353.40 L291.20,344.98 L291.70,335.68 L292.20,326.70 L292.70,318.91 L293.20,313.04 L293.70,309.16 L294.20,307.56 L294.70,308.30 L295.20,311.31 L295.70,316.45 L296.20,323.57 L296.70,332.14 L297.20,341.30 L297.70,350.23 L298.20,357.42 L298.70,362.37 L299.20,365.14 L299.70,366.36 L300.20,367.07 L300.70,367.24 L301.20,367.33 L301.70,367.43 L302.20,367.32 L302.70,366.76 L303.20,366.77 L303.70,367.06 L304.20,367.17 L304.70,367.08 L305.20,367.57 L305.70,367.57 L306.20,367.65 L306.70,367.51 L307.20,367.49 L307.70,367.24 L308.20,367.14 L308.70,366.58 L309.20,366.44 L309.70,366.59 L310.20,366.36 L310.70,366.48 L311.20,366.71 L311.70,366.74 L312.20,366.72 L312.70,367.01 L313.20,366.95 L313.70,366.66 L314.20,366.76 L314.70,367.12 L315.20,366.99 L315.70,366.74 L316.20,367.20 L316.70,367.58 L317.20,367.27 L317.70,366.78 L318.20,366.65 L318.70,366.69 L319.20,366.19 L319.70,366.28 L320.20,366.74 L320.70,366.93 L321.20,366.79 L321.70,366.76 L322.20,366.64 L322.70,366.49 L323.20,366.40 L323.70,366.42 L324.20,366.03 L324.70,365.47 L325.20,365.23 L325.70,364.35 L326.20,363.04 L326.70,361.81 L327.20,360.69 L327.70,359.08 L328.20,358.24 L328.70,357.56 L329.20,357.81 L329.70,358.08 L330.20,359.34 L330.70,360.56 L331.20,361.78 L331.70,362.60 L332.20,363.32 L332.70,363.14 L333.20,362.96 L333.70,362.05 L334.20,360.94 L334.70,360.20 L335.20,359.74 L335.70,359.44 L336.20,360.39 L336.70,361.57 L337.20,362.15 L337.70,362.92 L338.20,363.05 L338.70,363.18 L339.20,362.64 L339.70,362.78 L340.20,362.43 L340.70,362.61 L341.20,362.45 L341.70,362.56 L342.20,362.36 L342.70,362.18 L343.20,362.52 L343.70,362.29 L344.20,362.53 L344.70,362.63 L345.20,363.02 L345.70,362.56 L346.20,362.51 L346.70,362.33 L347.20,362.40 L347.70,362.08 L348.20,362.22 L348.70,362.15 L349.20,362.13 L349.70,361.87 L350.20,361.93 L350.70,361.46 L351.20,360.91 L351.70,360.16 L352.20,359.34 L352.70,357.84 L353.20,356.07 L353.70,352.89 L354.20,347.87 L354.70,341.94 L355.20,335.70 L355.70,330.00 L356.20,325.77 L356.70,323.59 L357.20,323.32 L357.70,325.06 L358.20,328.81 L358.70,333.88 L359.20,339.74 L359.70,345.23 L360.20,349.91 L360.70,352.70 L361.20,354.17 L361.70,354.35 L362.20,354.55 L362.70,355.01 L363.20,355.04 L363.70,355.23 L364.20,355.27 L364.70,355.26 L365.20,354.86 L365.70,355.04 L366.20,354.35 L366.70,354.15 L367.20,353.90 L367.70,353.93 L368.20,353.47 L368.70,354.11 L369.20,354.34 L369.70,354.32 L370.20,354.12 L370.70,353.94 L371.20,353.61 L371.70,353.07 L372.20,352.72 L372.70,351.68 L373.20,349.79 L373.70,346.88 L374.20,342.02 L374.70,334.88 L375.20,325.13 L375.70,313.18 L376.20,299.29 L376.70,284.34 L377.20,268.67 L377.70,252.73 L378.20,236.92 L378.70,222.64 L379.20,220.52 L379.70,233.84 L380.20,249.54 L380.70,265.49 L381.20,281.23 L381.70,296.33 L382.20,310.31 L382.70,322.46 L383.20,331.67 L383.70,337.24 L384.20,340.56 L384.70,344.05 L385.20,348.12 L385.70,351.35 L386.20,352.67 L386.70,352.10 L387.20,351.37 L387.70,350.77 L388.20,350.85 L388.70,351.61 L389.20,352.94 L389.70,354.18 L390.20,353.94 L390.70,354.22 L391.20,354.27 L391.70,354.45 L392.20,354.14 L392.70,354.83 L393.20,354.46 L393.70,354.40 L394.20,354.59 L394.70,354.88 L395.20,354.81 L395.70,355.38 L396.20,355.28 L396.70,354.95 L397.20,353.74 L397.70,351.73 L398.20,347.36 L398.70,342.12 L399.20,335.64 L399.70,329.19 L400.20,323.90 L400.70,320.37 L401.20,318.83 L401.70,319.53 L402.20,322.40 L402.70,327.17 L403.20,333.33 L403.70,339.90 L404.20,345.90 L404.70,350.69 L405.20,353.48 L405.70,355.54 L406.20,356.99 L406.70,358.04 L407.20,358.64 L407.70,359.38 L408.20,359.63 L408.70,360.11 L409.20,360.46 L409.70,361.00 L410.20,361.38 L410.70,361.47 L411.20,361.36 L411.70,361.27 L412.20,361.03 L412.70,360.64 L413.20,360.57 L413.70,360.73 L414.20,360.44 L414.70,360.74 L415.20,361.18 L415.70,361.53 L416.20,361.38 L416.70,361.73 L417.20,361.82 L417.70,361.79 L418.20,361.87 L418.70,361.72 L419.20,361.43 L419.70,360.99 L420.20,360.21 L420.70,359.28 L421.20,358.91 L421.70,358.61 L422.20,358.24 L422.70,358.65 L423.20,359.32 L423.70,360.19 L424.20,361.07 L424.70,361.76 L425.20,362.31 L425.70,362.08 L426.20,360.98 L426.70,359.30 L427.20,357.67 L427.70,355.95 L428.20,355.42 L428.70,355.92 L429.20,357.59 L429.70,359.74 L430.20,361.84 L430.70,363.37 L431.20,364.32 L431.70,364.98 L432.20,365.10 L432.70,365.71 L433.20,366.03 L433.70,366.27 L434.20,366.22 L434.70,366.77 L435.20,366.61 L435.70,366.61 L436.20,366.53 L436.70,366.30 L437.20,365.95 L437.70,366.25 L438.20,366.52 L438.70,366.66 L439.20,366.61 L439.70,367.02 L440.20,366.91 L440.70,366.43 L441.20,366.52 L441.70,366.76 L442.20,366.75 L442.70,366.79 L443.20,367.04 L443.70,366.68 L444.20,366.82 L444.70,367.09 L445.20,367.06 L445.70,367.09 L446.20,367.65 L446.70,367.61 L447.20,367.45 L447.70,367.05 L448.20,367.07 L448.70,367.18 L449.20,367.48 L449.70,367.28 L450.20,367.33 L450.70,367.42 L451.20,367.26 L451.70,366.97 L452.20,366.87 L452.70,367.29 L453.20,367.22 L453.70,367.19 L454.20,367.22 L454.70,367.01 L455.20,366.60 L455.70,366.60 L456.20,366.39 L456.70,366.58 L457.20,366.55 L457.70,365.77 L458.20,364.49 L458.70,361.80 L459.20,356.56 L459.70,350.03 L460.20,342.86 L460.70,335.83 L461.20,329.87 L461.70,325.70 L462.20,323.42 L462.70,323.20 L463.20,325.05 L463.70,328.88 L464.20,334.41 L464.70,341.21 L465.20,348.83 L465.70,355.93 L466.20,361.92 L466.70,365.66 L467.20,367.87 L467.70,368.68 L468.20,369.26 L468.70,369.23 L469.20,369.55 L469.70,369.42 L470.20,369.33 L470.70,368.78 L471.20,368.71 L471.70,368.67 L472.20,368.79 L472.70,368.59 L473.20,368.59 L473.70,368.29 L474.20,368.42 L474.70,368.38 L475.20,368.33 L475.70,368.72 L476.20,368.89 L476.70,368.48 L477.20,367.47 L477.70,366.47 L478.20,365.07 L478.70,364.10 L479.20,364.26 L479.70,365.76 L480.20,367.15 L480.70,368.02 L481.20,368.53 L481.70,369.05 L482.20,368.85 L482.70,368.79 L483.20,368.85 L483.70,369.02 L484.20,368.71 L484.70,369.05 L485.20,368.82 L485.70,368.80 L486.20,368.69 L486.70,369.11 L487.20,368.83 L487.70,368.68 L488.20,368.64 L488.70,368.42 L489.20,368.00 L489.70,367.75 L490.20,368.15 L490.70,368.43 L491.20,369.17 L491.70,369.15 L492.20,369.22 L492.70,368.63 L493.20,368.41 L493.70,367.86 L494.20,368.16 L494.70,368.69 L495.20,368.81 L495.70,368.75 L496.20,369.19 L496.70,368.69 L497.20,368.10 L497.70,368.52 L498.20,368.61 L498.70,367.97 L499.20,368.32 L499.70,368.48 L500.20,368.33 L500.70,368.34 L501.20,368.98 L501.70,369.05 L502.20,368.95 L502.70,369.20 L503.20,369.27 L503.70,369.04 L504.20,368.75 L504.70,368.74 L505.20,368.47 L505.70,368.55 L506.20,368.36 L506.70,368.12 L507.20,367.76 L507.70,367.21 L508.20,366.54 L508.70,366.50 L509.20,366.60 L509.70,367.24 L510.20,368.06 L510.70,368.73 L511.20,369.37 L511.70,370.21 L512.20,370.30 L512.70,370.00 L513.20,370.04 L513.70,369.60 L514.20,369.53 L514.70,369.64 L515.20,370.02 L515.70,369.90 L516.20,369.95 L516.70,370.02 L517.20,369.95 L517.70,369.77 L518.20,369.79 L518.70,369.78 L519.20,369.37 L519.70,369.08 L520.20,369.01 L520.70,368.97 L521.20,368.82 L521.70,368.50 L522.20,368.59 L522.70,368.63 L523.20,368.63 L523.70,368.79 L524.20,368.89 L524.70,368.99 L525.20,368.79 L525.70,368.75 L526.20,368.71 L526.70,368.64 L527.20,368.55 L527.70,368.55 L528.20,368.54 L528.70,368.72 L529.20,368.56 L529.70,368.37 L530.20,368.17 L530.70,367.82 L531.20,367.37 L531.70,367.87 L532.20,368.03 L532.70,368.05 L533.20,368.19 L533.70,368.22 L534.20,367.77 L534.70,367.60 L535.20,367.67 L535.70,367.78 L536.20,367.57 L536.70,367.68 L537.20,367.74 L537.70,367.71 L538.20,367.45 L538.70,367.56 L539.20,367.26 L539.70,367.02 L540.20,366.84 L540.70,366.76 L541.20,366.90 L541.70,367.10 L542.20,367.20 L542.70,367.17 L543.20,367.31 L543.70,366.98 L544.20,366.93 L544.70,366.88" stroke="#000" stroke-width="1.4"/>
</g>
<rect x="212.7" y="213.5" width="332" height="164.5" fill="none" stroke="#000" stroke-width="1"/>
<line x1="212.3" y1="378" x2="212.3" y2="375" stroke="#000" stroke-width="1"/>
<line x1="212.3" y1="213.5" x2="212.3" y2="216.5" stroke="#000" stroke-width="1"/>
<line x1="229.0" y1="378" x2="229.0" y2="376.2" stroke="#000" stroke-width="1"/>
<line x1="229.0" y1="213.5" x2="229.0" y2="215.3" stroke="#000" stroke-width="1"/>
<line x1="245.6" y1="378" x2="245.6" y2="375" stroke="#000" stroke-width="1"/>
<line x1="245.6" y1="213.5" x2="245.6" y2="216.5" stroke="#000" stroke-width="1"/>
<text x="245.60000000000002" y="389.5" font-size="10.2" fill="#222" stroke="#222" stroke-width="0.3" text-anchor="middle" >-80</text>
<line x1="262.2" y1="378" x2="262.2" y2="376.2" stroke="#000" stroke-width="1"/>
<line x1="262.2" y1="213.5" x2="262.2" y2="215.3" stroke="#000" stroke-width="1"/>
<line x1="278.9" y1="378" x2="278.9" y2="375" stroke="#000" stroke-width="1"/>
<line x1="278.9" y1="213.5" x2="278.9" y2="216.5" stroke="#000" stroke-width="1"/>
<text x="278.9" y="389.5" font-size="10.2" fill="#222" stroke="#222" stroke-width="0.3" text-anchor="middle" >-60</text>
<line x1="295.6" y1="378" x2="295.6" y2="376.2" stroke="#000" stroke-width="1"/>
<line x1="295.6" y1="213.5" x2="295.6" y2="215.3" stroke="#000" stroke-width="1"/>
<line x1="312.2" y1="378" x2="312.2" y2="375" stroke="#000" stroke-width="1"/>
<line x1="312.2" y1="213.5" x2="312.2" y2="216.5" stroke="#000" stroke-width="1"/>
<text x="312.20000000000005" y="389.5" font-size="10.2" fill="#222" stroke="#222" stroke-width="0.3" text-anchor="middle" >-40</text>
<line x1="328.9" y1="378" x2="328.9" y2="376.2" stroke="#000" stroke-width="1"/>
<line x1="328.9" y1="213.5" x2="328.9" y2="215.3" stroke="#000" stroke-width="1"/>
<line x1="345.5" y1="378" x2="345.5" y2="375" stroke="#000" stroke-width="1"/>
<line x1="345.5" y1="213.5" x2="345.5" y2="216.5" stroke="#000" stroke-width="1"/>
<text x="345.5" y="389.5" font-size="10.2" fill="#222" stroke="#222" stroke-width="0.3" text-anchor="middle" >-20</text>
<line x1="362.2" y1="378" x2="362.2" y2="376.2" stroke="#000" stroke-width="1"/>
<line x1="362.2" y1="213.5" x2="362.2" y2="215.3" stroke="#000" stroke-width="1"/>
<line x1="378.8" y1="378" x2="378.8" y2="375" stroke="#000" stroke-width="1"/>
<line x1="378.8" y1="213.5" x2="378.8" y2="216.5" stroke="#000" stroke-width="1"/>
<text x="378.8" y="389.5" font-size="10.2" fill="#222" stroke="#222" stroke-width="0.3" text-anchor="middle" >0</text>
<line x1="395.4" y1="378" x2="395.4" y2="376.2" stroke="#000" stroke-width="1"/>
<line x1="395.4" y1="213.5" x2="395.4" y2="215.3" stroke="#000" stroke-width="1"/>
<line x1="412.1" y1="378" x2="412.1" y2="375" stroke="#000" stroke-width="1"/>
<line x1="412.1" y1="213.5" x2="412.1" y2="216.5" stroke="#000" stroke-width="1"/>
<text x="412.1" y="389.5" font-size="10.2" fill="#222" stroke="#222" stroke-width="0.3" text-anchor="middle" >20</text>
<line x1="428.8" y1="378" x2="428.8" y2="376.2" stroke="#000" stroke-width="1"/>
<line x1="428.8" y1="213.5" x2="428.8" y2="215.3" stroke="#000" stroke-width="1"/>
<line x1="445.4" y1="378" x2="445.4" y2="375" stroke="#000" stroke-width="1"/>
<line x1="445.4" y1="213.5" x2="445.4" y2="216.5" stroke="#000" stroke-width="1"/>
<text x="445.4" y="389.5" font-size="10.2" fill="#222" stroke="#222" stroke-width="0.3" text-anchor="middle" >40</text>
<line x1="462.1" y1="378" x2="462.1" y2="376.2" stroke="#000" stroke-width="1"/>
<line x1="462.1" y1="213.5" x2="462.1" y2="215.3" stroke="#000" stroke-width="1"/>
<line x1="478.7" y1="378" x2="478.7" y2="375" stroke="#000" stroke-width="1"/>
<line x1="478.7" y1="213.5" x2="478.7" y2="216.5" stroke="#000" stroke-width="1"/>
<text x="478.70000000000005" y="389.5" font-size="10.2" fill="#222" stroke="#222" stroke-width="0.3" text-anchor="middle" >60</text>
<line x1="495.4" y1="378" x2="495.4" y2="376.2" stroke="#000" stroke-width="1"/>
<line x1="495.4" y1="213.5" x2="495.4" y2="215.3" stroke="#000" stroke-width="1"/>
<line x1="512.0" y1="378" x2="512.0" y2="375" stroke="#000" stroke-width="1"/>
<line x1="512.0" y1="213.5" x2="512.0" y2="216.5" stroke="#000" stroke-width="1"/>
<text x="512.0" y="389.5" font-size="10.2" fill="#222" stroke="#222" stroke-width="0.3" text-anchor="middle" >80</text>
<line x1="528.6" y1="378" x2="528.6" y2="376.2" stroke="#000" stroke-width="1"/>
<line x1="528.6" y1="213.5" x2="528.6" y2="215.3" stroke="#000" stroke-width="1"/>
<line x1="545.3" y1="378" x2="545.3" y2="375" stroke="#000" stroke-width="1"/>
<line x1="545.3" y1="213.5" x2="545.3" y2="216.5" stroke="#000" stroke-width="1"/>
<line x1="212.7" y1="260.3" x2="215.7" y2="260.3" stroke="#000" stroke-width="1"/>
<line x1="544.7" y1="260.3" x2="541.7" y2="260.3" stroke="#000" stroke-width="1"/>
<line x1="212.7" y1="320.5" x2="215.7" y2="320.5" stroke="#000" stroke-width="1"/>
<line x1="544.7" y1="320.5" x2="541.7" y2="320.5" stroke="#000" stroke-width="1"/>
<line x1="212.7" y1="242.2" x2="214.29999999999998" y2="242.2" stroke="#000" stroke-width="1"/>
<line x1="544.7" y1="242.2" x2="543.1" y2="242.2" stroke="#000" stroke-width="1"/>
<line x1="212.7" y1="231.6" x2="214.29999999999998" y2="231.6" stroke="#000" stroke-width="1"/>
<line x1="544.7" y1="231.6" x2="543.1" y2="231.6" stroke="#000" stroke-width="1"/>
<line x1="212.7" y1="224.1" x2="214.29999999999998" y2="224.1" stroke="#000" stroke-width="1"/>
<line x1="544.7" y1="224.1" x2="543.1" y2="224.1" stroke="#000" stroke-width="1"/>
<line x1="212.7" y1="218.2" x2="214.29999999999998" y2="218.2" stroke="#000" stroke-width="1"/>
<line x1="544.7" y1="218.2" x2="543.1" y2="218.2" stroke="#000" stroke-width="1"/>
<line x1="212.7" y1="302.4" x2="214.29999999999998" y2="302.4" stroke="#000" stroke-width="1"/>
<line x1="544.7" y1="302.4" x2="543.1" y2="302.4" stroke="#000" stroke-width="1"/>
<line x1="212.7" y1="291.8" x2="214.29999999999998" y2="291.8" stroke="#000" stroke-width="1"/>
<line x1="544.7" y1="291.8" x2="543.1" y2="291.8" stroke="#000" stroke-width="1"/>
<line x1="212.7" y1="284.3" x2="214.29999999999998" y2="284.3" stroke="#000" stroke-width="1"/>
<line x1="544.7" y1="284.3" x2="543.1" y2="284.3" stroke="#000" stroke-width="1"/>
<line x1="212.7" y1="278.4" x2="214.29999999999998" y2="278.4" stroke="#000" stroke-width="1"/>
<line x1="544.7" y1="278.4" x2="543.1" y2="278.4" stroke="#000" stroke-width="1"/>
<line x1="212.7" y1="273.7" x2="214.29999999999998" y2="273.7" stroke="#000" stroke-width="1"/>
<line x1="544.7" y1="273.7" x2="543.1" y2="273.7" stroke="#000" stroke-width="1"/>
<line x1="212.7" y1="269.6" x2="214.29999999999998" y2="269.6" stroke="#000" stroke-width="1"/>
<line x1="544.7" y1="269.6" x2="543.1" y2="269.6" stroke="#000" stroke-width="1"/>
<line x1="212.7" y1="266.1" x2="214.29999999999998" y2="266.1" stroke="#000" stroke-width="1"/>
<line x1="544.7" y1="266.1" x2="543.1" y2="266.1" stroke="#000" stroke-width="1"/>
<line x1="212.7" y1="263.1" x2="214.29999999999998" y2="263.1" stroke="#000" stroke-width="1"/>
<line x1="544.7" y1="263.1" x2="543.1" y2="263.1" stroke="#000" stroke-width="1"/>
<line x1="212.7" y1="362.6" x2="214.29999999999998" y2="362.6" stroke="#000" stroke-width="1"/>
<line x1="544.7" y1="362.6" x2="543.1" y2="362.6" stroke="#000" stroke-width="1"/>
<line x1="212.7" y1="352.0" x2="214.29999999999998" y2="352.0" stroke="#000" stroke-width="1"/>
<line x1="544.7" y1="352.0" x2="543.1" y2="352.0" stroke="#000" stroke-width="1"/>
<line x1="212.7" y1="344.5" x2="214.29999999999998" y2="344.5" stroke="#000" stroke-width="1"/>
<line x1="544.7" y1="344.5" x2="543.1" y2="344.5" stroke="#000" stroke-width="1"/>
<line x1="212.7" y1="338.6" x2="214.29999999999998" y2="338.6" stroke="#000" stroke-width="1"/>
<line x1="544.7" y1="338.6" x2="543.1" y2="338.6" stroke="#000" stroke-width="1"/>
<line x1="212.7" y1="333.9" x2="214.29999999999998" y2="333.9" stroke="#000" stroke-width="1"/>
<line x1="544.7" y1="333.9" x2="543.1" y2="333.9" stroke="#000" stroke-width="1"/>
<line x1="212.7" y1="329.8" x2="214.29999999999998" y2="329.8" stroke="#000" stroke-width="1"/>
<line x1="544.7" y1="329.8" x2="543.1" y2="329.8" stroke="#000" stroke-width="1"/>
<line x1="212.7" y1="326.3" x2="214.29999999999998" y2="326.3" stroke="#000" stroke-width="1"/>
<line x1="544.7" y1="326.3" x2="543.1" y2="326.3" stroke="#000" stroke-width="1"/>
<line x1="212.7" y1="323.3" x2="214.29999999999998" y2="323.3" stroke="#000" stroke-width="1"/>
<line x1="544.7" y1="323.3" x2="543.1" y2="323.3" stroke="#000" stroke-width="1"/>
<text x="353.5" y="400.5" font-size="10.2" fill="#222" stroke="#222" stroke-width="0.3" text-anchor="start" >k<tspan font-size="7" dy="2.5">||</tspan><tspan dy="-2.5"> (% SBZ)</tspan></text>
<text x="204.8" y="296" font-size="10.2" fill="#222" stroke="#222" stroke-width="0.3" text-anchor="middle" transform="rotate(-90 204.8 296)">Intensity (arb. units)</text>
<rect x="218.3" y="218.8" width="99" height="40.2" fill="#fff" stroke="#333" stroke-width="1"/>
<line x1="219.3" y1="226.3" x2="243.9" y2="226.3" stroke="#b4b4b4" stroke-width="2.2"/>
<line x1="219.3" y1="239.3" x2="243.9" y2="239.3" stroke="#9b30ff" stroke-width="1.6"/>
<line x1="219.3" y1="251.9" x2="243.9" y2="251.9" stroke="#000" stroke-width="1.5"/>
<text x="245.5" y="230" font-size="10.5" fill="#222" stroke="#222" stroke-width="0.3" text-anchor="start" >buffer layer</text>
<text x="245.5" y="243" font-size="10.5" fill="#222" stroke="#222" stroke-width="0.3" text-anchor="start" >Pb adsorbed</text>
<text x="245.5" y="256" font-size="10.5" fill="#222" stroke="#222" stroke-width="0.3" text-anchor="start" >Pb intercalated</text>
<text x="481" y="232.5" font-size="10.2" fill="#444" stroke="#444" stroke-width="0.3" text-anchor="start" >[1<tspan style="text-decoration:overline">1</tspan>00]</text>
<line x1="478" y1="237.8" x2="508" y2="237.8" stroke="#555" stroke-width="1.1"/>
<polygon points="512.5,237.8 507,235.4 507,240.2" fill="#555"/>
<line x1="224.7" y1="330.3" x2="224.7" y2="343.1" stroke="#9b30ff" stroke-width="1.6"/>
<polygon points="224.7,351.6 221.7,342.6 227.7,342.6" fill="#9b30ff"/>
<line x1="524.1" y1="329.6" x2="524.1" y2="343.1" stroke="#9b30ff" stroke-width="1.6"/>
<polygon points="524.1,351.6 521.1,342.6 527.1,342.6" fill="#9b30ff"/>
<line x1="278.7" y1="323.0" x2="278.7" y2="337.8" stroke="#f0a800" stroke-width="1.6"/>
<polygon points="278.7,346.3 275.7,337.3 281.7,337.3" fill="#f0a800"/>
<line x1="478.8" y1="323.7" x2="478.8" y2="337.2" stroke="#f0a800" stroke-width="1.6"/>
<polygon points="478.8,345.7 475.8,336.7 481.8,336.7" fill="#f0a800"/>
<line x1="356.7" y1="285.5" x2="356.7" y2="299.1" stroke="#2a80e0" stroke-width="1.5"/>
<polygon points="356.7,307.6 354.0,298.6 359.4,298.6" fill="#2a80e0"/>
<line x1="401.3" y1="285.5" x2="401.3" y2="299.1" stroke="#2a80e0" stroke-width="1.5"/>
<polygon points="401.3,307.6 398.6,298.6 404.0,298.6" fill="#2a80e0"/>
</svg></body></html>
